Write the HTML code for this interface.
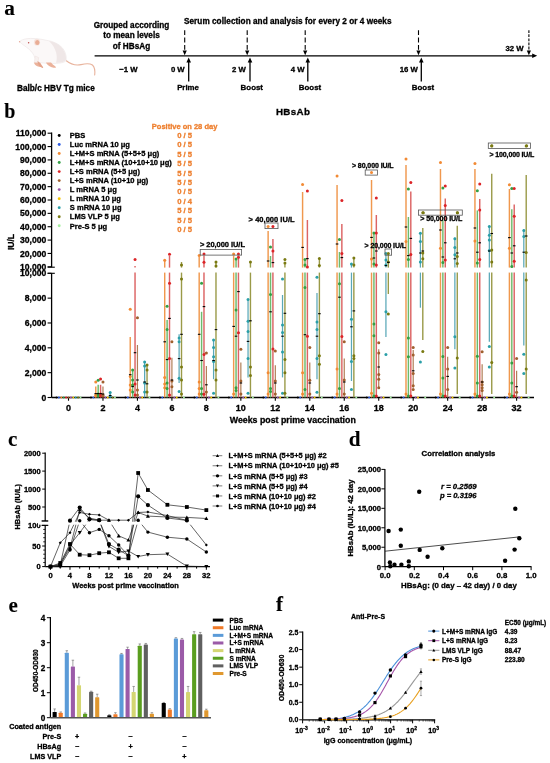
<!DOCTYPE html>
<html><head><meta charset="utf-8"><title>Figure</title>
<style>
html,body{margin:0;padding:0;background:#fff;}
svg{display:block;}
text{font-family:'Liberation Sans', Arial, Helvetica, sans-serif;font-weight:bold;stroke-width:0.3px;}
text:not([stroke]){stroke:#000;}
</style></head>
<body>
<svg width="550" height="763" viewBox="0 0 550 763">
<rect width="550" height="763" fill="#fff"/>
<text x="4.3" y="14.8" font-size="21.3" style="font-family:Liberation Serif, Times New Roman, serif;stroke-width:0.1px">a</text>
<g id="mouse">
<path d="M66,60.5 C71,64.5 76,65.8 81,64.6 C85,63.6 89.5,63 92.4,65 C94.6,67 95.2,70.5 94.7,75" fill="none" stroke="#e8b39c" stroke-width="1.1" stroke-linecap="round"/>
<path d="M19.4,41.6 C21.5,40 23.5,39.2 26,38.8 C29,38.3 32,38.2 35,38.6 C39,38.6 43,39.6 47,40.4 C53,41.2 58.5,43.6 62,47.5 C65.5,51.5 66.6,56 66.2,60.5 C64.5,62.8 60,63.4 54,63.4 C49,63.5 44,63.3 40,62.6 C37.5,62 36,60.6 35,58.2 C33.8,54.5 31.8,51.6 28.8,49 C25.8,46.6 22.4,44.6 19.4,41.6 Z" fill="#fbf8f8" stroke="#e9e0e0" stroke-width="0.5"/>
<path d="M49,40.9 C55,41.8 59.5,44.5 62.5,48.5 C65.3,52.3 66.3,56.5 66,60.2 C64,62.3 60,62.8 56,62.8 C58,56.5 56.5,48 49,40.9 Z" fill="#efe7e7"/>
<path d="M35.2,56 C34.8,59 34.4,61.5 34.2,63 L38.6,63.4 C38.2,61.5 38.2,59.5 38.6,57.5 Z" fill="#f7f1f0" stroke="#eadcda" stroke-width="0.4"/>
<path d="M34.2,62.6 C34,64.2 35.5,65.8 38,66.6 C39.6,67.1 41,67.2 41.3,66.5 C41.2,65.7 40,65.2 39,64.5 C38.6,63.9 38.5,63.3 38.6,62.8 Z" fill="#ebb29b"/>
<path d="M37.4,61 C37.6,63.5 38.6,65.6 40.4,66.8 C41.6,67.8 43,68.4 43.2,67.4 C42.8,66.2 41.2,65 40.4,63 Z" fill="#e4a48b"/>
<path d="M46,62.5 C47,64.5 48.6,66 50.6,66.8 C52.6,67.6 55,68.3 56,67.5 C56,66.4 54,65.8 52.8,64.6 C52,63.8 51.4,63 51,62.6 Z" fill="#ebb29b"/>
<ellipse cx="37" cy="42.2" rx="3.1" ry="3.4" fill="#f6e4de"/>
<ellipse cx="37.3" cy="42.5" rx="2.2" ry="2.6" fill="#e9ad96"/>
<circle cx="28.6" cy="42.7" r="0.75" fill="#c0504d"/>
<circle cx="19.6" cy="41.7" r="0.7" fill="#e8a898"/>
</g>
<text x="55.9" y="91.4" font-size="8.23" text-anchor="middle">Balb/c HBV Tg mice</text>
<line x1="94.6" y1="55.8" x2="533" y2="55.8" stroke="#000" stroke-width="1.3"/>
<path d="M537.2,55.8 L532.2,53.6 L532.2,58 Z" fill="#000"/>
<text x="131.5" y="28.3" font-size="8.2" text-anchor="middle">Grouped according</text>
<text x="131.5" y="38.4" font-size="8.2" text-anchor="middle">to mean levels</text>
<text x="131.5" y="48.5" font-size="8.2" text-anchor="middle">of HBsAg</text>
<text x="184" y="24.4" font-size="8.2" textLength="207.5">Serum collection and analysis for every 2 or 4 weeks</text>
<text x="128.5" y="71.6" font-size="7.75" text-anchor="middle">−1 W</text>
<text x="177.8" y="71.6" font-size="7.75" text-anchor="middle">0 W</text>
<text x="239" y="71.6" font-size="7.75" text-anchor="middle">2 W</text>
<text x="297.6" y="71.6" font-size="7.75" text-anchor="middle">4 W</text>
<text x="408.8" y="71.6" font-size="7.75" text-anchor="middle">16 W</text>
<text x="514.5" y="50.9" font-size="7.75" text-anchor="middle">32 W</text>
<line x1="184.7" y1="30.2" x2="184.7" y2="52" stroke="#000" stroke-width="1.1" stroke-dasharray="4.8,2.6"/>
<path d="M184.7,55.2 L182.6,50.6 L186.8,50.6 Z" fill="#000"/>
<line x1="247.2" y1="30.2" x2="247.2" y2="52" stroke="#000" stroke-width="1.1" stroke-dasharray="4.8,2.6"/>
<path d="M247.2,55.2 L245.1,50.6 L249.3,50.6 Z" fill="#000"/>
<line x1="305.2" y1="30.2" x2="305.2" y2="52" stroke="#000" stroke-width="1.1" stroke-dasharray="4.8,2.6"/>
<path d="M305.2,55.2 L303.1,50.6 L307.3,50.6 Z" fill="#000"/>
<line x1="418.5" y1="30.2" x2="418.5" y2="52" stroke="#000" stroke-width="1.1" stroke-dasharray="4.8,2.6"/>
<path d="M418.5,55.2 L416.4,50.6 L420.6,50.6 Z" fill="#000"/>
<line x1="528.9" y1="30.2" x2="528.9" y2="52" stroke="#000" stroke-width="1.1" stroke-dasharray="2.8,1.3"/>
<path d="M528.9,55.2 L526.8,50.6 L531,50.6 Z" fill="#000"/>
<line x1="188.7" y1="61.5" x2="188.7" y2="81.5" stroke="#000" stroke-width="1.3"/>
<path d="M188.7,57.4 L186.4,62.6 L191,62.6 Z" fill="#000"/>
<line x1="250" y1="61.5" x2="250" y2="81.5" stroke="#000" stroke-width="1.3"/>
<path d="M250,57.4 L247.7,62.6 L252.3,62.6 Z" fill="#000"/>
<line x1="307.8" y1="61.5" x2="307.8" y2="81.5" stroke="#000" stroke-width="1.3"/>
<path d="M307.8,57.4 L305.5,62.6 L310.1,62.6 Z" fill="#000"/>
<line x1="421.3" y1="61.5" x2="421.3" y2="81.5" stroke="#000" stroke-width="1.3"/>
<path d="M421.3,57.4 L419,62.6 L423.6,62.6 Z" fill="#000"/>
<text x="188" y="90.3" font-size="7.8" text-anchor="middle">Prime</text>
<text x="251.8" y="90.3" font-size="7.9" text-anchor="middle">Boost</text>
<text x="310" y="90.3" font-size="7.9" text-anchor="middle">Boost</text>
<text x="423" y="90.3" font-size="7.9" text-anchor="middle">Boost</text>
<text x="4.3" y="117.6" font-size="20" style="font-family:Liberation Serif, Times New Roman, serif;stroke-width:0.1px">b</text>
<text x="275.9" y="115.3" font-size="9.75" textLength="34">HBsAb</text>
<line x1="51.6" y1="132.5" x2="51.6" y2="267.2" stroke="#000" stroke-width="1.3"/>
<line x1="47.6" y1="133.2" x2="51.6" y2="133.2" stroke="#000" stroke-width="1.1"/>
<text x="46.3" y="136.3" font-size="8.6" text-anchor="end">110,000</text>
<line x1="47.6" y1="146.56" x2="51.6" y2="146.56" stroke="#000" stroke-width="1.1"/>
<text x="46.3" y="149.66" font-size="8.6" text-anchor="end">100,000</text>
<line x1="47.6" y1="159.92" x2="51.6" y2="159.92" stroke="#000" stroke-width="1.1"/>
<text x="46.3" y="163.02" font-size="8.6" text-anchor="end">90,000</text>
<line x1="47.6" y1="173.28" x2="51.6" y2="173.28" stroke="#000" stroke-width="1.1"/>
<text x="46.3" y="176.38" font-size="8.6" text-anchor="end">80,000</text>
<line x1="47.6" y1="186.64" x2="51.6" y2="186.64" stroke="#000" stroke-width="1.1"/>
<text x="46.3" y="189.74" font-size="8.6" text-anchor="end">70,000</text>
<line x1="47.6" y1="200" x2="51.6" y2="200" stroke="#000" stroke-width="1.1"/>
<text x="46.3" y="203.1" font-size="8.6" text-anchor="end">60,000</text>
<line x1="47.6" y1="213.36" x2="51.6" y2="213.36" stroke="#000" stroke-width="1.1"/>
<text x="46.3" y="216.46" font-size="8.6" text-anchor="end">50,000</text>
<line x1="47.6" y1="226.72" x2="51.6" y2="226.72" stroke="#000" stroke-width="1.1"/>
<text x="46.3" y="229.82" font-size="8.6" text-anchor="end">40,000</text>
<line x1="47.6" y1="240.08" x2="51.6" y2="240.08" stroke="#000" stroke-width="1.1"/>
<text x="46.3" y="243.18" font-size="8.6" text-anchor="end">30,000</text>
<line x1="47.6" y1="253.44" x2="51.6" y2="253.44" stroke="#000" stroke-width="1.1"/>
<text x="46.3" y="256.54" font-size="8.6" text-anchor="end">20,000</text>
<line x1="47.6" y1="266.8" x2="51.6" y2="266.8" stroke="#000" stroke-width="1.1"/>
<text x="46.3" y="269.9" font-size="8.6" text-anchor="end">10,000</text>
<line x1="47.6" y1="267.2" x2="54.8" y2="267.2" stroke="#000" stroke-width="1.1"/>
<line x1="51.6" y1="273.3" x2="51.6" y2="397.5" stroke="#000" stroke-width="1.3"/>
<line x1="47.6" y1="273.3" x2="54.8" y2="273.3" stroke="#000" stroke-width="1.1"/>
<line x1="47.6" y1="273.3" x2="51.6" y2="273.3" stroke="#000" stroke-width="1.1"/>
<text x="46.3" y="276.4" font-size="8.6" text-anchor="end">10,000</text>
<line x1="47.6" y1="298.14" x2="51.6" y2="298.14" stroke="#000" stroke-width="1.1"/>
<text x="46.3" y="301.24" font-size="8.6" text-anchor="end">8,000</text>
<line x1="47.6" y1="322.98" x2="51.6" y2="322.98" stroke="#000" stroke-width="1.1"/>
<text x="46.3" y="326.08" font-size="8.6" text-anchor="end">6,000</text>
<line x1="47.6" y1="347.82" x2="51.6" y2="347.82" stroke="#000" stroke-width="1.1"/>
<text x="46.3" y="350.92" font-size="8.6" text-anchor="end">4,000</text>
<line x1="47.6" y1="372.66" x2="51.6" y2="372.66" stroke="#000" stroke-width="1.1"/>
<text x="46.3" y="375.76" font-size="8.6" text-anchor="end">2,000</text>
<line x1="47.6" y1="397.5" x2="51.6" y2="397.5" stroke="#000" stroke-width="1.1"/>
<text x="46.3" y="400.6" font-size="8.6" text-anchor="end">0</text>
<text x="14.4" y="242" font-size="8.6" text-anchor="middle" transform="rotate(-90 14.4 242)">IU/L</text>
<text x="184.6" y="129" font-size="7.5" text-anchor="middle" fill="#ee7f2e" stroke="#ee7f2e">Positive on 28 day</text>
<circle cx="59.2" cy="135.5" r="1.45" fill="#000000"/>
<text x="69.8" y="138.3" font-size="7.55">PBS</text>
<text x="184.6" y="137.8" font-size="7.65" text-anchor="middle" fill="#ee7f2e" stroke="#ee7f2e">0 / 5</text>
<circle cx="59.2" cy="144.52" r="1.45" fill="#2d5be3"/>
<text x="69.8" y="147.32" font-size="7.55">Luc mRNA 10 μg</text>
<text x="184.6" y="147.24" font-size="7.65" text-anchor="middle" fill="#ee7f2e" stroke="#ee7f2e">0 / 5</text>
<circle cx="59.2" cy="153.54" r="1.45" fill="#f28a34"/>
<text x="69.8" y="156.34" font-size="7.55">L+M+S mRNA (5+5+5 μg)</text>
<text x="184.6" y="156.68" font-size="7.65" text-anchor="middle" fill="#ee7f2e" stroke="#ee7f2e">5 / 5</text>
<circle cx="59.2" cy="162.56" r="1.45" fill="#33a045"/>
<text x="69.8" y="165.36" font-size="7.55">L+M+S mRNA (10+10+10 μg)</text>
<text x="184.6" y="166.12" font-size="7.65" text-anchor="middle" fill="#ee7f2e" stroke="#ee7f2e">5 / 5</text>
<circle cx="59.2" cy="171.58" r="1.45" fill="#dc2427"/>
<text x="69.8" y="174.38" font-size="7.55">L+S mRNA (5+5 μg)</text>
<text x="184.6" y="175.56" font-size="7.65" text-anchor="middle" fill="#ee7f2e" stroke="#ee7f2e">5 / 5</text>
<circle cx="59.2" cy="180.6" r="1.45" fill="#a0602e"/>
<text x="69.8" y="183.4" font-size="7.55">L+S mRNA (10+10 μg)</text>
<text x="184.6" y="185" font-size="7.65" text-anchor="middle" fill="#ee7f2e" stroke="#ee7f2e">5 / 5</text>
<circle cx="59.2" cy="189.62" r="1.45" fill="#9a55a8"/>
<text x="69.8" y="192.42" font-size="7.55">L mRNA 5 μg</text>
<text x="184.6" y="194.44" font-size="7.65" text-anchor="middle" fill="#ee7f2e" stroke="#ee7f2e">0 / 5</text>
<circle cx="59.2" cy="198.64" r="1.45" fill="#f5c400"/>
<text x="69.8" y="201.44" font-size="7.55">L mRNA 10 μg</text>
<text x="184.6" y="203.88" font-size="7.65" text-anchor="middle" fill="#ee7f2e" stroke="#ee7f2e">0 / 4</text>
<circle cx="59.2" cy="207.66" r="1.45" fill="#2a9fa8"/>
<text x="69.8" y="210.46" font-size="7.55">S mRNA 10 μg</text>
<text x="184.6" y="213.32" font-size="7.65" text-anchor="middle" fill="#ee7f2e" stroke="#ee7f2e">5 / 5</text>
<circle cx="59.2" cy="216.68" r="1.45" fill="#7a7a12"/>
<text x="69.8" y="219.48" font-size="7.55">LMS VLP 5 μg</text>
<text x="184.6" y="222.76" font-size="7.65" text-anchor="middle" fill="#ee7f2e" stroke="#ee7f2e">5 / 5</text>
<circle cx="59.2" cy="225.7" r="1.45" fill="#a6eea0"/>
<text x="69.8" y="228.5" font-size="7.55">Pre-S 5 μg</text>
<text x="184.6" y="232.2" font-size="7.65" text-anchor="middle" fill="#ee7f2e" stroke="#ee7f2e">0 / 5</text>
<line x1="51.6" y1="397.5" x2="534" y2="397.5" stroke="#000" stroke-width="1.4"/>
<line x1="68.5" y1="397.5" x2="68.5" y2="400.7" stroke="#000" stroke-width="1.1"/>
<text x="68.5" y="411.2" font-size="9" text-anchor="middle">0</text>
<line x1="102.97" y1="397.5" x2="102.97" y2="400.7" stroke="#000" stroke-width="1.1"/>
<text x="102.97" y="411.2" font-size="9" text-anchor="middle">2</text>
<line x1="137.44" y1="397.5" x2="137.44" y2="400.7" stroke="#000" stroke-width="1.1"/>
<text x="137.44" y="411.2" font-size="9" text-anchor="middle">4</text>
<line x1="171.91" y1="397.5" x2="171.91" y2="400.7" stroke="#000" stroke-width="1.1"/>
<text x="171.91" y="411.2" font-size="9" text-anchor="middle">6</text>
<line x1="206.38" y1="397.5" x2="206.38" y2="400.7" stroke="#000" stroke-width="1.1"/>
<text x="206.38" y="411.2" font-size="9" text-anchor="middle">8</text>
<line x1="240.85" y1="397.5" x2="240.85" y2="400.7" stroke="#000" stroke-width="1.1"/>
<text x="240.85" y="411.2" font-size="9" text-anchor="middle">10</text>
<line x1="275.32" y1="397.5" x2="275.32" y2="400.7" stroke="#000" stroke-width="1.1"/>
<text x="275.32" y="411.2" font-size="9" text-anchor="middle">12</text>
<line x1="309.79" y1="397.5" x2="309.79" y2="400.7" stroke="#000" stroke-width="1.1"/>
<text x="309.79" y="411.2" font-size="9" text-anchor="middle">14</text>
<line x1="344.26" y1="397.5" x2="344.26" y2="400.7" stroke="#000" stroke-width="1.1"/>
<text x="344.26" y="411.2" font-size="9" text-anchor="middle">16</text>
<line x1="378.73" y1="397.5" x2="378.73" y2="400.7" stroke="#000" stroke-width="1.1"/>
<text x="378.73" y="411.2" font-size="9" text-anchor="middle">18</text>
<line x1="413.2" y1="397.5" x2="413.2" y2="400.7" stroke="#000" stroke-width="1.1"/>
<text x="413.2" y="411.2" font-size="9" text-anchor="middle">20</text>
<line x1="447.67" y1="397.5" x2="447.67" y2="400.7" stroke="#000" stroke-width="1.1"/>
<text x="447.67" y="411.2" font-size="9" text-anchor="middle">24</text>
<line x1="482.14" y1="397.5" x2="482.14" y2="400.7" stroke="#000" stroke-width="1.1"/>
<text x="482.14" y="411.2" font-size="9" text-anchor="middle">28</text>
<line x1="516.61" y1="397.5" x2="516.61" y2="400.7" stroke="#000" stroke-width="1.1"/>
<text x="516.61" y="411.2" font-size="9" text-anchor="middle">32</text>
<text x="292.8" y="422.8" font-size="8.8" text-anchor="middle">Weeks post prime vaccination</text>
<circle cx="56.5" cy="397.5" r="1" fill="#000000"/>
<circle cx="58.9" cy="397.5" r="1" fill="#2d5be3"/>
<circle cx="61.3" cy="397.5" r="1" fill="#f28a34"/>
<circle cx="63.7" cy="397.5" r="1" fill="#33a045"/>
<circle cx="66.1" cy="397.5" r="1" fill="#dc2427"/>
<circle cx="68.5" cy="397.5" r="1" fill="#a0602e"/>
<circle cx="70.9" cy="397.5" r="1" fill="#9a55a8"/>
<circle cx="73.3" cy="397.5" r="1" fill="#f5c400"/>
<circle cx="75.7" cy="397.5" r="1" fill="#2a9fa8"/>
<circle cx="78.1" cy="397.5" r="1" fill="#7a7a12"/>
<circle cx="80.5" cy="397.5" r="1" fill="#a6eea0"/>
<circle cx="90.97" cy="397.5" r="1" fill="#000000"/>
<circle cx="93.37" cy="397.5" r="1" fill="#2d5be3"/>
<line x1="95.77" y1="386.6" x2="95.77" y2="397.5" stroke="#f0984e" stroke-width="1.45"/>
<circle cx="95.77" cy="382" r="1.5" fill="#f28a34"/>
<circle cx="95.77" cy="395" r="1.5" fill="#f28a34"/>
<circle cx="95.77" cy="396" r="1.5" fill="#f28a34"/>
<line x1="94.47" y1="393.6" x2="97.07" y2="393.6" stroke="#000" stroke-width="1.1"/>
<line x1="98.17" y1="384.8" x2="98.17" y2="397.5" stroke="#6cbc6e" stroke-width="1.45"/>
<circle cx="98.17" cy="380.2" r="1.5" fill="#33a045"/>
<circle cx="98.17" cy="394" r="1.5" fill="#33a045"/>
<circle cx="98.17" cy="396" r="1.5" fill="#33a045"/>
<line x1="96.87" y1="393.6" x2="99.47" y2="393.6" stroke="#000" stroke-width="1.1"/>
<line x1="100.57" y1="384.8" x2="100.57" y2="397.5" stroke="#dc6464" stroke-width="1.45"/>
<circle cx="100.57" cy="378.9" r="1.5" fill="#dc2427"/>
<circle cx="100.57" cy="394" r="1.5" fill="#dc2427"/>
<circle cx="100.57" cy="396" r="1.5" fill="#dc2427"/>
<line x1="99.27" y1="393.6" x2="101.87" y2="393.6" stroke="#000" stroke-width="1.1"/>
<line x1="102.97" y1="386.6" x2="102.97" y2="397.5" stroke="#b07e56" stroke-width="1.2"/>
<circle cx="102.97" cy="382" r="1.5" fill="#a0602e"/>
<circle cx="102.97" cy="395" r="1.5" fill="#a0602e"/>
<circle cx="102.97" cy="396" r="1.5" fill="#a0602e"/>
<line x1="101.67" y1="394" x2="104.27" y2="394" stroke="#000" stroke-width="1.1"/>
<circle cx="105.37" cy="397.5" r="1" fill="#9a55a8"/>
<circle cx="107.77" cy="397.5" r="1" fill="#f5c400"/>
<line x1="110.17" y1="392" x2="110.17" y2="397.5" stroke="#5aa8b8" stroke-width="1.25"/>
<circle cx="110.17" cy="392.5" r="1.5" fill="#2a9fa8"/>
<circle cx="110.17" cy="396" r="1.5" fill="#2a9fa8"/>
<line x1="108.87" y1="395.5" x2="111.47" y2="395.5" stroke="#000" stroke-width="1.1"/>
<circle cx="112.57" cy="397.5" r="1" fill="#7a7a12"/>
<circle cx="114.97" cy="397.5" r="1" fill="#a6eea0"/>
<circle cx="125.44" cy="397.5" r="1" fill="#000000"/>
<circle cx="127.84" cy="397.5" r="1" fill="#2d5be3"/>
<line x1="130.24" y1="337" x2="130.24" y2="397.5" stroke="#f0984e" stroke-width="1.45"/>
<circle cx="130.24" cy="309.2" r="1.5" fill="#f28a34"/>
<circle cx="130.24" cy="376.5" r="1.5" fill="#f28a34"/>
<circle cx="130.24" cy="385" r="1.5" fill="#f28a34"/>
<circle cx="130.24" cy="390" r="1.5" fill="#f28a34"/>
<line x1="128.94" y1="374.7" x2="131.54" y2="374.7" stroke="#000" stroke-width="1.1"/>
<line x1="132.64" y1="370" x2="132.64" y2="397.5" stroke="#6cbc6e" stroke-width="1.45"/>
<circle cx="132.64" cy="370" r="1.5" fill="#33a045"/>
<circle cx="132.64" cy="380" r="1.5" fill="#33a045"/>
<circle cx="132.64" cy="385" r="1.5" fill="#33a045"/>
<circle cx="132.64" cy="392" r="1.5" fill="#33a045"/>
<line x1="131.34" y1="386.6" x2="133.94" y2="386.6" stroke="#000" stroke-width="1.1"/>
<line x1="135.04" y1="266" x2="135.04" y2="267.6" stroke="#dc6464" stroke-width="1.45"/>
<line x1="135.04" y1="272.6" x2="135.04" y2="397.5" stroke="#dc6464" stroke-width="1.45"/>
<circle cx="135.04" cy="259.6" r="1.5" fill="#dc2427"/>
<circle cx="135.04" cy="384" r="1.5" fill="#dc2427"/>
<circle cx="135.04" cy="395" r="1.5" fill="#dc2427"/>
<line x1="133.74" y1="352.7" x2="136.34" y2="352.7" stroke="#000" stroke-width="1.1"/>
<line x1="137.44" y1="345" x2="137.44" y2="397.5" stroke="#b07e56" stroke-width="1.2"/>
<circle cx="137.44" cy="317.8" r="1.5" fill="#a0602e"/>
<circle cx="137.44" cy="390" r="1.5" fill="#a0602e"/>
<circle cx="137.44" cy="395" r="1.5" fill="#a0602e"/>
<line x1="136.14" y1="380" x2="138.74" y2="380" stroke="#000" stroke-width="1.1"/>
<circle cx="139.84" cy="397.5" r="1" fill="#9a55a8"/>
<circle cx="142.24" cy="397.5" r="1" fill="#f5c400"/>
<line x1="144.64" y1="361.8" x2="144.64" y2="397.5" stroke="#5aa8b8" stroke-width="1.25"/>
<circle cx="144.64" cy="362" r="1.5" fill="#2a9fa8"/>
<circle cx="144.64" cy="366" r="1.5" fill="#2a9fa8"/>
<circle cx="144.64" cy="383" r="1.5" fill="#2a9fa8"/>
<circle cx="144.64" cy="392" r="1.5" fill="#2a9fa8"/>
<line x1="143.34" y1="382" x2="145.94" y2="382" stroke="#000" stroke-width="1.1"/>
<line x1="147.04" y1="364.6" x2="147.04" y2="397.5" stroke="#9a9a48" stroke-width="1.4"/>
<circle cx="147.04" cy="365" r="1.5" fill="#7a7a12"/>
<circle cx="147.04" cy="370" r="1.5" fill="#7a7a12"/>
<circle cx="147.04" cy="392" r="1.5" fill="#7a7a12"/>
<line x1="145.74" y1="383.8" x2="148.34" y2="383.8" stroke="#000" stroke-width="1.1"/>
<circle cx="149.44" cy="397.5" r="1" fill="#a6eea0"/>
<circle cx="159.91" cy="397.5" r="1" fill="#000000"/>
<circle cx="162.31" cy="397.5" r="1" fill="#2d5be3"/>
<line x1="164.71" y1="260" x2="164.71" y2="267.6" stroke="#f0984e" stroke-width="1.45"/>
<line x1="164.71" y1="272.6" x2="164.71" y2="397.5" stroke="#f0984e" stroke-width="1.45"/>
<circle cx="164.71" cy="260.3" r="1.5" fill="#f28a34"/>
<circle cx="164.71" cy="377.4" r="1.5" fill="#f28a34"/>
<circle cx="164.71" cy="384" r="1.5" fill="#f28a34"/>
<circle cx="164.71" cy="387.7" r="1.5" fill="#f28a34"/>
<line x1="163.41" y1="341.8" x2="166.01" y2="341.8" stroke="#000" stroke-width="1.1"/>
<line x1="167.11" y1="320" x2="167.11" y2="397.5" stroke="#6cbc6e" stroke-width="1.45"/>
<circle cx="167.11" cy="306.2" r="1.5" fill="#33a045"/>
<circle cx="167.11" cy="329.6" r="1.5" fill="#33a045"/>
<circle cx="167.11" cy="383" r="1.5" fill="#33a045"/>
<circle cx="167.11" cy="388.6" r="1.5" fill="#33a045"/>
<line x1="165.81" y1="359.6" x2="168.41" y2="359.6" stroke="#000" stroke-width="1.1"/>
<line x1="169.51" y1="256" x2="169.51" y2="267.6" stroke="#dc6464" stroke-width="1.45"/>
<line x1="169.51" y1="272.6" x2="169.51" y2="397.5" stroke="#dc6464" stroke-width="1.45"/>
<circle cx="169.51" cy="254.2" r="1.5" fill="#dc2427"/>
<circle cx="169.51" cy="283.2" r="1.5" fill="#dc2427"/>
<circle cx="169.51" cy="358.6" r="1.5" fill="#dc2427"/>
<circle cx="169.51" cy="395" r="1.5" fill="#dc2427"/>
<line x1="168.21" y1="318.4" x2="170.81" y2="318.4" stroke="#000" stroke-width="1.1"/>
<line x1="171.91" y1="357.7" x2="171.91" y2="397.5" stroke="#b07e56" stroke-width="1.2"/>
<circle cx="171.91" cy="341.8" r="1.5" fill="#a0602e"/>
<circle cx="171.91" cy="381" r="1.5" fill="#a0602e"/>
<circle cx="171.91" cy="386.7" r="1.5" fill="#a0602e"/>
<line x1="170.61" y1="380" x2="173.21" y2="380" stroke="#000" stroke-width="1.1"/>
<circle cx="174.31" cy="397.5" r="1" fill="#9a55a8"/>
<circle cx="176.71" cy="397.5" r="1" fill="#f5c400"/>
<line x1="179.11" y1="334.3" x2="179.11" y2="383" stroke="#5aa8b8" stroke-width="1.25"/>
<circle cx="179.11" cy="338" r="1.5" fill="#2a9fa8"/>
<circle cx="179.11" cy="341.8" r="1.5" fill="#2a9fa8"/>
<circle cx="179.11" cy="378.3" r="1.5" fill="#2a9fa8"/>
<circle cx="179.11" cy="391.4" r="1.5" fill="#2a9fa8"/>
<line x1="177.81" y1="358.6" x2="180.41" y2="358.6" stroke="#000" stroke-width="1.1"/>
<line x1="181.51" y1="262" x2="181.51" y2="267.6" stroke="#9a9a48" stroke-width="1.4"/>
<line x1="181.51" y1="272.6" x2="181.51" y2="397.5" stroke="#9a9a48" stroke-width="1.4"/>
<circle cx="181.51" cy="264.9" r="1.5" fill="#7a7a12"/>
<circle cx="181.51" cy="279" r="1.5" fill="#7a7a12"/>
<circle cx="181.51" cy="367" r="1.5" fill="#7a7a12"/>
<circle cx="181.51" cy="380" r="1.5" fill="#7a7a12"/>
<circle cx="181.51" cy="394" r="1.5" fill="#7a7a12"/>
<line x1="180.21" y1="334.3" x2="182.81" y2="334.3" stroke="#000" stroke-width="1.1"/>
<circle cx="183.91" cy="397.5" r="1" fill="#a6eea0"/>
<circle cx="194.38" cy="397.5" r="1" fill="#000000"/>
<circle cx="196.78" cy="397.5" r="1" fill="#2d5be3"/>
<line x1="199.18" y1="257" x2="199.18" y2="267.6" stroke="#f0984e" stroke-width="1.45"/>
<line x1="199.18" y1="272.6" x2="199.18" y2="397.5" stroke="#f0984e" stroke-width="1.45"/>
<circle cx="199.18" cy="255.5" r="1.5" fill="#f28a34"/>
<circle cx="199.18" cy="382" r="1.5" fill="#f28a34"/>
<circle cx="199.18" cy="388.6" r="1.5" fill="#f28a34"/>
<circle cx="199.18" cy="394" r="1.5" fill="#f28a34"/>
<line x1="197.88" y1="334.3" x2="200.48" y2="334.3" stroke="#000" stroke-width="1.1"/>
<line x1="201.58" y1="311.8" x2="201.58" y2="397.5" stroke="#6cbc6e" stroke-width="1.45"/>
<circle cx="201.58" cy="283.2" r="1.5" fill="#33a045"/>
<circle cx="201.58" cy="388.6" r="1.5" fill="#33a045"/>
<circle cx="201.58" cy="394" r="1.5" fill="#33a045"/>
<line x1="200.28" y1="360.5" x2="202.88" y2="360.5" stroke="#000" stroke-width="1.1"/>
<line x1="203.98" y1="256" x2="203.98" y2="267.6" stroke="#dc6464" stroke-width="1.45"/>
<line x1="203.98" y1="272.6" x2="203.98" y2="397.5" stroke="#dc6464" stroke-width="1.45"/>
<circle cx="203.98" cy="254" r="1.5" fill="#dc2427"/>
<circle cx="203.98" cy="262.3" r="1.5" fill="#dc2427"/>
<circle cx="203.98" cy="354.5" r="1.5" fill="#dc2427"/>
<circle cx="203.98" cy="394.2" r="1.5" fill="#dc2427"/>
<line x1="202.68" y1="306.6" x2="205.28" y2="306.6" stroke="#000" stroke-width="1.1"/>
<line x1="206.38" y1="366" x2="206.38" y2="397.5" stroke="#b07e56" stroke-width="1.2"/>
<circle cx="206.38" cy="353" r="1.5" fill="#a0602e"/>
<circle cx="206.38" cy="392" r="1.5" fill="#a0602e"/>
<line x1="205.08" y1="384.8" x2="207.68" y2="384.8" stroke="#000" stroke-width="1.1"/>
<circle cx="208.78" cy="397.5" r="1" fill="#9a55a8"/>
<circle cx="211.18" cy="397.5" r="1" fill="#f5c400"/>
<line x1="213.58" y1="339.5" x2="213.58" y2="379.2" stroke="#5aa8b8" stroke-width="1.25"/>
<circle cx="213.58" cy="340" r="1.5" fill="#2a9fa8"/>
<circle cx="213.58" cy="347.4" r="1.5" fill="#2a9fa8"/>
<circle cx="213.58" cy="356.8" r="1.5" fill="#2a9fa8"/>
<circle cx="213.58" cy="361.4" r="1.5" fill="#2a9fa8"/>
<circle cx="213.58" cy="393.3" r="1.5" fill="#2a9fa8"/>
<line x1="212.28" y1="360.5" x2="214.88" y2="360.5" stroke="#000" stroke-width="1.1"/>
<line x1="215.98" y1="262" x2="215.98" y2="267.6" stroke="#9a9a48" stroke-width="1.4"/>
<line x1="215.98" y1="272.6" x2="215.98" y2="397.5" stroke="#9a9a48" stroke-width="1.4"/>
<circle cx="215.98" cy="262" r="1.5" fill="#7a7a12"/>
<circle cx="215.98" cy="266" r="1.5" fill="#7a7a12"/>
<circle cx="215.98" cy="370" r="1.5" fill="#7a7a12"/>
<circle cx="215.98" cy="380" r="1.5" fill="#7a7a12"/>
<line x1="214.68" y1="329.6" x2="217.28" y2="329.6" stroke="#000" stroke-width="1.1"/>
<circle cx="218.38" cy="397.5" r="1" fill="#a6eea0"/>
<circle cx="228.85" cy="397.5" r="1" fill="#000000"/>
<circle cx="231.25" cy="397.5" r="1" fill="#2d5be3"/>
<line x1="233.65" y1="256" x2="233.65" y2="267.6" stroke="#f0984e" stroke-width="1.45"/>
<line x1="233.65" y1="272.6" x2="233.65" y2="397.5" stroke="#f0984e" stroke-width="1.45"/>
<circle cx="233.65" cy="254" r="1.5" fill="#f28a34"/>
<circle cx="233.65" cy="394" r="1.5" fill="#f28a34"/>
<line x1="232.35" y1="326.4" x2="234.95" y2="326.4" stroke="#000" stroke-width="1.1"/>
<line x1="236.05" y1="259" x2="236.05" y2="267.6" stroke="#6cbc6e" stroke-width="1.45"/>
<line x1="236.05" y1="272.6" x2="236.05" y2="397.5" stroke="#6cbc6e" stroke-width="1.45"/>
<circle cx="236.05" cy="259" r="1.5" fill="#33a045"/>
<circle cx="236.05" cy="310" r="1.5" fill="#33a045"/>
<circle cx="236.05" cy="387.7" r="1.5" fill="#33a045"/>
<circle cx="236.05" cy="390.5" r="1.5" fill="#33a045"/>
<line x1="234.75" y1="336.2" x2="237.35" y2="336.2" stroke="#000" stroke-width="1.1"/>
<line x1="238.45" y1="256" x2="238.45" y2="267.6" stroke="#dc6464" stroke-width="1.45"/>
<line x1="238.45" y1="272.6" x2="238.45" y2="397.5" stroke="#dc6464" stroke-width="1.45"/>
<circle cx="238.45" cy="254" r="1.5" fill="#dc2427"/>
<circle cx="238.45" cy="257.3" r="1.5" fill="#dc2427"/>
<circle cx="238.45" cy="332.8" r="1.5" fill="#dc2427"/>
<line x1="237.15" y1="291.6" x2="239.75" y2="291.6" stroke="#000" stroke-width="1.1"/>
<line x1="240.85" y1="362.4" x2="240.85" y2="397.5" stroke="#b07e56" stroke-width="1.2"/>
<circle cx="240.85" cy="349.3" r="1.5" fill="#a0602e"/>
<circle cx="240.85" cy="381" r="1.5" fill="#a0602e"/>
<circle cx="240.85" cy="394" r="1.5" fill="#a0602e"/>
<line x1="239.55" y1="383" x2="242.15" y2="383" stroke="#000" stroke-width="1.1"/>
<circle cx="243.25" cy="397.5" r="1" fill="#9a55a8"/>
<circle cx="245.65" cy="397.5" r="1" fill="#f5c400"/>
<line x1="248.05" y1="299.6" x2="248.05" y2="377.4" stroke="#5aa8b8" stroke-width="1.25"/>
<circle cx="248.05" cy="299.6" r="1.5" fill="#2a9fa8"/>
<circle cx="248.05" cy="321.2" r="1.5" fill="#2a9fa8"/>
<circle cx="248.05" cy="331.5" r="1.5" fill="#2a9fa8"/>
<circle cx="248.05" cy="358.6" r="1.5" fill="#2a9fa8"/>
<circle cx="248.05" cy="393.3" r="1.5" fill="#2a9fa8"/>
<line x1="246.75" y1="341.4" x2="249.35" y2="341.4" stroke="#000" stroke-width="1.1"/>
<line x1="250.45" y1="262" x2="250.45" y2="267.6" stroke="#9a9a48" stroke-width="1.4"/>
<line x1="250.45" y1="272.6" x2="250.45" y2="397.5" stroke="#9a9a48" stroke-width="1.4"/>
<circle cx="250.45" cy="262" r="1.5" fill="#7a7a12"/>
<circle cx="250.45" cy="367" r="1.5" fill="#7a7a12"/>
<circle cx="250.45" cy="375.5" r="1.5" fill="#7a7a12"/>
<line x1="249.15" y1="320.8" x2="251.75" y2="320.8" stroke="#000" stroke-width="1.1"/>
<circle cx="252.85" cy="397.5" r="1" fill="#a6eea0"/>
<circle cx="263.32" cy="397.5" r="1" fill="#000000"/>
<circle cx="265.72" cy="397.5" r="1" fill="#2d5be3"/>
<line x1="268.12" y1="231" x2="268.12" y2="267.6" stroke="#f0984e" stroke-width="1.45"/>
<line x1="268.12" y1="272.6" x2="268.12" y2="397.5" stroke="#f0984e" stroke-width="1.45"/>
<circle cx="268.12" cy="226.4" r="1.5" fill="#f28a34"/>
<circle cx="268.12" cy="372.7" r="1.5" fill="#f28a34"/>
<circle cx="268.12" cy="394" r="1.5" fill="#f28a34"/>
<line x1="266.82" y1="261" x2="269.42" y2="261" stroke="#000" stroke-width="1.1"/>
<line x1="270.52" y1="256" x2="270.52" y2="267.6" stroke="#6cbc6e" stroke-width="1.45"/>
<line x1="270.52" y1="272.6" x2="270.52" y2="397.5" stroke="#6cbc6e" stroke-width="1.45"/>
<circle cx="270.52" cy="247" r="1.5" fill="#33a045"/>
<circle cx="270.52" cy="294.4" r="1.5" fill="#33a045"/>
<circle cx="270.52" cy="388.6" r="1.5" fill="#33a045"/>
<circle cx="270.52" cy="391.4" r="1.5" fill="#33a045"/>
<line x1="269.22" y1="311.8" x2="271.82" y2="311.8" stroke="#000" stroke-width="1.1"/>
<line x1="272.92" y1="239" x2="272.92" y2="267.6" stroke="#dc6464" stroke-width="1.45"/>
<line x1="272.92" y1="272.6" x2="272.92" y2="397.5" stroke="#dc6464" stroke-width="1.45"/>
<circle cx="272.92" cy="226.4" r="1.5" fill="#dc2427"/>
<circle cx="272.92" cy="251" r="1.5" fill="#dc2427"/>
<circle cx="272.92" cy="349" r="1.5" fill="#dc2427"/>
<line x1="271.62" y1="262.6" x2="274.22" y2="262.6" stroke="#000" stroke-width="1.1"/>
<line x1="275.32" y1="365.2" x2="275.32" y2="397.5" stroke="#b07e56" stroke-width="1.2"/>
<circle cx="275.32" cy="351" r="1.5" fill="#a0602e"/>
<circle cx="275.32" cy="381" r="1.5" fill="#a0602e"/>
<circle cx="275.32" cy="394" r="1.5" fill="#a0602e"/>
<line x1="274.02" y1="383" x2="276.62" y2="383" stroke="#000" stroke-width="1.1"/>
<circle cx="277.72" cy="397.5" r="1" fill="#9a55a8"/>
<circle cx="280.12" cy="397.5" r="1" fill="#f5c400"/>
<line x1="282.52" y1="295" x2="282.52" y2="377.4" stroke="#5aa8b8" stroke-width="1.25"/>
<circle cx="282.52" cy="279" r="1.5" fill="#2a9fa8"/>
<circle cx="282.52" cy="325" r="1.5" fill="#2a9fa8"/>
<circle cx="282.52" cy="332.4" r="1.5" fill="#2a9fa8"/>
<circle cx="282.52" cy="352" r="1.5" fill="#2a9fa8"/>
<circle cx="282.52" cy="393.3" r="1.5" fill="#2a9fa8"/>
<line x1="281.22" y1="336.2" x2="283.82" y2="336.2" stroke="#000" stroke-width="1.1"/>
<line x1="284.92" y1="263" x2="284.92" y2="267.6" stroke="#9a9a48" stroke-width="1.4"/>
<line x1="284.92" y1="272.6" x2="284.92" y2="397.5" stroke="#9a9a48" stroke-width="1.4"/>
<circle cx="284.92" cy="259.6" r="1.5" fill="#7a7a12"/>
<circle cx="284.92" cy="263" r="1.5" fill="#7a7a12"/>
<circle cx="284.92" cy="359.6" r="1.5" fill="#7a7a12"/>
<circle cx="284.92" cy="372.7" r="1.5" fill="#7a7a12"/>
<circle cx="284.92" cy="393.3" r="1.5" fill="#7a7a12"/>
<line x1="283.62" y1="313.3" x2="286.22" y2="313.3" stroke="#000" stroke-width="1.1"/>
<circle cx="287.32" cy="397.5" r="1" fill="#a6eea0"/>
<circle cx="297.79" cy="397.5" r="1" fill="#000000"/>
<circle cx="300.19" cy="397.5" r="1" fill="#2d5be3"/>
<line x1="302.59" y1="192" x2="302.59" y2="267.6" stroke="#f0984e" stroke-width="1.45"/>
<line x1="302.59" y1="272.6" x2="302.59" y2="397.5" stroke="#f0984e" stroke-width="1.45"/>
<circle cx="302.59" cy="184.4" r="1.5" fill="#f28a34"/>
<circle cx="302.59" cy="372.7" r="1.5" fill="#f28a34"/>
<circle cx="302.59" cy="394" r="1.5" fill="#f28a34"/>
<line x1="301.29" y1="247.4" x2="303.89" y2="247.4" stroke="#000" stroke-width="1.1"/>
<line x1="304.99" y1="259.6" x2="304.99" y2="267.6" stroke="#6cbc6e" stroke-width="1.45"/>
<line x1="304.99" y1="272.6" x2="304.99" y2="397.5" stroke="#6cbc6e" stroke-width="1.45"/>
<circle cx="304.99" cy="259.6" r="1.5" fill="#33a045"/>
<circle cx="304.99" cy="265" r="1.5" fill="#33a045"/>
<circle cx="304.99" cy="287.5" r="1.5" fill="#33a045"/>
<circle cx="304.99" cy="389.5" r="1.5" fill="#33a045"/>
<line x1="303.69" y1="334.7" x2="306.29" y2="334.7" stroke="#000" stroke-width="1.1"/>
<line x1="307.39" y1="220" x2="307.39" y2="267.6" stroke="#dc6464" stroke-width="1.45"/>
<line x1="307.39" y1="272.6" x2="307.39" y2="397.5" stroke="#dc6464" stroke-width="1.45"/>
<circle cx="307.39" cy="191" r="1.5" fill="#dc2427"/>
<circle cx="307.39" cy="267" r="1.5" fill="#dc2427"/>
<circle cx="307.39" cy="336.2" r="1.5" fill="#dc2427"/>
<line x1="306.09" y1="258.6" x2="308.69" y2="258.6" stroke="#000" stroke-width="1.1"/>
<line x1="309.79" y1="362.4" x2="309.79" y2="397.5" stroke="#b07e56" stroke-width="1.2"/>
<circle cx="309.79" cy="347.4" r="1.5" fill="#a0602e"/>
<circle cx="309.79" cy="380.2" r="1.5" fill="#a0602e"/>
<circle cx="309.79" cy="394" r="1.5" fill="#a0602e"/>
<line x1="308.49" y1="383" x2="311.09" y2="383" stroke="#000" stroke-width="1.1"/>
<circle cx="312.19" cy="397.5" r="1" fill="#9a55a8"/>
<circle cx="314.59" cy="397.5" r="1" fill="#f5c400"/>
<line x1="316.99" y1="293" x2="316.99" y2="379.2" stroke="#5aa8b8" stroke-width="1.25"/>
<circle cx="316.99" cy="277.2" r="1.5" fill="#2a9fa8"/>
<circle cx="316.99" cy="322" r="1.5" fill="#2a9fa8"/>
<circle cx="316.99" cy="329.6" r="1.5" fill="#2a9fa8"/>
<circle cx="316.99" cy="358.6" r="1.5" fill="#2a9fa8"/>
<circle cx="316.99" cy="392.3" r="1.5" fill="#2a9fa8"/>
<line x1="315.69" y1="336.2" x2="318.29" y2="336.2" stroke="#000" stroke-width="1.1"/>
<line x1="319.39" y1="258.6" x2="319.39" y2="267.6" stroke="#9a9a48" stroke-width="1.4"/>
<line x1="319.39" y1="272.6" x2="319.39" y2="397.5" stroke="#9a9a48" stroke-width="1.4"/>
<circle cx="319.39" cy="258.6" r="1.5" fill="#7a7a12"/>
<circle cx="319.39" cy="265.6" r="1.5" fill="#7a7a12"/>
<circle cx="319.39" cy="355.8" r="1.5" fill="#7a7a12"/>
<circle cx="319.39" cy="364.3" r="1.5" fill="#7a7a12"/>
<line x1="318.09" y1="313.7" x2="320.69" y2="313.7" stroke="#000" stroke-width="1.1"/>
<circle cx="321.79" cy="397.5" r="1" fill="#a6eea0"/>
<circle cx="332.26" cy="397.5" r="1" fill="#000000"/>
<circle cx="334.66" cy="397.5" r="1" fill="#2d5be3"/>
<line x1="337.06" y1="185" x2="337.06" y2="267.6" stroke="#f0984e" stroke-width="1.45"/>
<line x1="337.06" y1="272.6" x2="337.06" y2="397.5" stroke="#f0984e" stroke-width="1.45"/>
<circle cx="337.06" cy="176" r="1.5" fill="#f28a34"/>
<circle cx="337.06" cy="369" r="1.5" fill="#f28a34"/>
<circle cx="337.06" cy="394" r="1.5" fill="#f28a34"/>
<line x1="335.76" y1="244" x2="338.36" y2="244" stroke="#000" stroke-width="1.1"/>
<line x1="339.46" y1="252" x2="339.46" y2="267.6" stroke="#6cbc6e" stroke-width="1.45"/>
<line x1="339.46" y1="272.6" x2="339.46" y2="397.5" stroke="#6cbc6e" stroke-width="1.45"/>
<circle cx="339.46" cy="239.6" r="1.5" fill="#33a045"/>
<circle cx="339.46" cy="283.7" r="1.5" fill="#33a045"/>
<circle cx="339.46" cy="388.6" r="1.5" fill="#33a045"/>
<line x1="338.16" y1="297.2" x2="340.76" y2="297.2" stroke="#000" stroke-width="1.1"/>
<line x1="341.86" y1="224" x2="341.86" y2="267.6" stroke="#dc6464" stroke-width="1.45"/>
<line x1="341.86" y1="272.6" x2="341.86" y2="397.5" stroke="#dc6464" stroke-width="1.45"/>
<circle cx="341.86" cy="200.4" r="1.5" fill="#dc2427"/>
<circle cx="341.86" cy="253.6" r="1.5" fill="#dc2427"/>
<circle cx="341.86" cy="336.5" r="1.5" fill="#dc2427"/>
<line x1="340.56" y1="257.6" x2="343.16" y2="257.6" stroke="#000" stroke-width="1.1"/>
<line x1="344.26" y1="358.6" x2="344.26" y2="397.5" stroke="#b07e56" stroke-width="1.2"/>
<circle cx="344.26" cy="341.8" r="1.5" fill="#a0602e"/>
<circle cx="344.26" cy="380" r="1.5" fill="#a0602e"/>
<circle cx="344.26" cy="394" r="1.5" fill="#a0602e"/>
<line x1="342.96" y1="382" x2="345.56" y2="382" stroke="#000" stroke-width="1.1"/>
<circle cx="346.66" cy="397.5" r="1" fill="#9a55a8"/>
<circle cx="349.06" cy="397.5" r="1" fill="#f5c400"/>
<line x1="351.46" y1="264" x2="351.46" y2="267.6" stroke="#5aa8b8" stroke-width="1.25"/>
<line x1="351.46" y1="272.6" x2="351.46" y2="381" stroke="#5aa8b8" stroke-width="1.25"/>
<circle cx="351.46" cy="264" r="1.5" fill="#2a9fa8"/>
<circle cx="351.46" cy="319.3" r="1.5" fill="#2a9fa8"/>
<circle cx="351.46" cy="361.4" r="1.5" fill="#2a9fa8"/>
<circle cx="351.46" cy="389.5" r="1.5" fill="#2a9fa8"/>
<line x1="350.16" y1="326.8" x2="352.76" y2="326.8" stroke="#000" stroke-width="1.1"/>
<line x1="353.86" y1="258" x2="353.86" y2="267.6" stroke="#9a9a48" stroke-width="1.4"/>
<line x1="353.86" y1="272.6" x2="353.86" y2="397.5" stroke="#9a9a48" stroke-width="1.4"/>
<circle cx="353.86" cy="258" r="1.5" fill="#7a7a12"/>
<circle cx="353.86" cy="265" r="1.5" fill="#7a7a12"/>
<circle cx="353.86" cy="355.8" r="1.5" fill="#7a7a12"/>
<circle cx="353.86" cy="358.6" r="1.5" fill="#7a7a12"/>
<line x1="352.56" y1="310.9" x2="355.16" y2="310.9" stroke="#000" stroke-width="1.1"/>
<circle cx="356.26" cy="397.5" r="1" fill="#a6eea0"/>
<circle cx="366.73" cy="397.5" r="1" fill="#000000"/>
<circle cx="369.13" cy="397.5" r="1" fill="#2d5be3"/>
<line x1="371.53" y1="180" x2="371.53" y2="267.6" stroke="#f0984e" stroke-width="1.45"/>
<line x1="371.53" y1="272.6" x2="371.53" y2="397.5" stroke="#f0984e" stroke-width="1.45"/>
<circle cx="371.53" cy="172.6" r="1.5" fill="#f28a34"/>
<circle cx="371.53" cy="259" r="1.5" fill="#f28a34"/>
<circle cx="371.53" cy="393.3" r="1.5" fill="#f28a34"/>
<line x1="370.23" y1="237.4" x2="372.83" y2="237.4" stroke="#000" stroke-width="1.1"/>
<line x1="373.93" y1="233" x2="373.93" y2="267.6" stroke="#6cbc6e" stroke-width="1.45"/>
<line x1="373.93" y1="272.6" x2="373.93" y2="397.5" stroke="#6cbc6e" stroke-width="1.45"/>
<circle cx="373.93" cy="233" r="1.5" fill="#33a045"/>
<circle cx="373.93" cy="264" r="1.5" fill="#33a045"/>
<circle cx="373.93" cy="324" r="1.5" fill="#33a045"/>
<circle cx="373.93" cy="335.8" r="1.5" fill="#33a045"/>
<circle cx="373.93" cy="396" r="1.5" fill="#33a045"/>
<line x1="372.63" y1="258" x2="375.23" y2="258" stroke="#000" stroke-width="1.1"/>
<line x1="376.33" y1="215" x2="376.33" y2="267.6" stroke="#dc6464" stroke-width="1.45"/>
<line x1="376.33" y1="272.6" x2="376.33" y2="397.5" stroke="#dc6464" stroke-width="1.45"/>
<circle cx="376.33" cy="198" r="1.5" fill="#dc2427"/>
<circle cx="376.33" cy="233" r="1.5" fill="#dc2427"/>
<circle cx="376.33" cy="265" r="1.5" fill="#dc2427"/>
<circle cx="376.33" cy="396" r="1.5" fill="#dc2427"/>
<line x1="375.03" y1="251" x2="377.63" y2="251" stroke="#000" stroke-width="1.1"/>
<line x1="378.73" y1="349.3" x2="378.73" y2="388.6" stroke="#b07e56" stroke-width="1.2"/>
<circle cx="378.73" cy="342.7" r="1.5" fill="#a0602e"/>
<circle cx="378.73" cy="353" r="1.5" fill="#a0602e"/>
<circle cx="378.73" cy="374.5" r="1.5" fill="#a0602e"/>
<circle cx="378.73" cy="379.2" r="1.5" fill="#a0602e"/>
<circle cx="378.73" cy="387.7" r="1.5" fill="#a0602e"/>
<line x1="377.43" y1="367" x2="380.03" y2="367" stroke="#000" stroke-width="1.1"/>
<circle cx="381.13" cy="397.5" r="1" fill="#9a55a8"/>
<circle cx="383.53" cy="397.5" r="1" fill="#f5c400"/>
<line x1="385.93" y1="255" x2="385.93" y2="267.6" stroke="#5aa8b8" stroke-width="1.25"/>
<line x1="385.93" y1="272.6" x2="385.93" y2="337" stroke="#5aa8b8" stroke-width="1.25"/>
<circle cx="385.93" cy="253.5" r="1.5" fill="#2a9fa8"/>
<circle cx="385.93" cy="260" r="1.5" fill="#2a9fa8"/>
<circle cx="385.93" cy="265" r="1.5" fill="#2a9fa8"/>
<circle cx="385.93" cy="311.8" r="1.5" fill="#2a9fa8"/>
<circle cx="385.93" cy="354.5" r="1.5" fill="#2a9fa8"/>
<line x1="384.63" y1="265.6" x2="387.23" y2="265.6" stroke="#000" stroke-width="1.1"/>
<line x1="388.33" y1="253" x2="388.33" y2="267.6" stroke="#9a9a48" stroke-width="1.4"/>
<line x1="388.33" y1="272.6" x2="388.33" y2="294" stroke="#9a9a48" stroke-width="1.4"/>
<circle cx="388.33" cy="253.6" r="1.5" fill="#7a7a12"/>
<circle cx="388.33" cy="262" r="1.5" fill="#7a7a12"/>
<circle cx="388.33" cy="314" r="1.5" fill="#7a7a12"/>
<line x1="387.03" y1="262.4" x2="389.63" y2="262.4" stroke="#000" stroke-width="1.1"/>
<circle cx="390.73" cy="397.5" r="1" fill="#a6eea0"/>
<circle cx="401.2" cy="397.5" r="1" fill="#000000"/>
<circle cx="403.6" cy="397.5" r="1" fill="#2d5be3"/>
<line x1="406" y1="165" x2="406" y2="267.6" stroke="#f0984e" stroke-width="1.45"/>
<line x1="406" y1="272.6" x2="406" y2="397.5" stroke="#f0984e" stroke-width="1.45"/>
<circle cx="406" cy="159" r="1.5" fill="#f28a34"/>
<circle cx="406" cy="241.6" r="1.5" fill="#f28a34"/>
<circle cx="406" cy="394" r="1.5" fill="#f28a34"/>
<line x1="404.7" y1="227" x2="407.3" y2="227" stroke="#000" stroke-width="1.1"/>
<line x1="408.4" y1="217" x2="408.4" y2="267.6" stroke="#6cbc6e" stroke-width="1.45"/>
<line x1="408.4" y1="272.6" x2="408.4" y2="397.5" stroke="#6cbc6e" stroke-width="1.45"/>
<circle cx="408.4" cy="189" r="1.5" fill="#33a045"/>
<circle cx="408.4" cy="259.4" r="1.5" fill="#33a045"/>
<circle cx="408.4" cy="338" r="1.5" fill="#33a045"/>
<circle cx="408.4" cy="356.8" r="1.5" fill="#33a045"/>
<circle cx="408.4" cy="396" r="1.5" fill="#33a045"/>
<line x1="407.1" y1="255.6" x2="409.7" y2="255.6" stroke="#000" stroke-width="1.1"/>
<line x1="410.8" y1="191.6" x2="410.8" y2="267.6" stroke="#dc6464" stroke-width="1.45"/>
<line x1="410.8" y1="272.6" x2="410.8" y2="397.5" stroke="#dc6464" stroke-width="1.45"/>
<circle cx="410.8" cy="182.6" r="1.5" fill="#dc2427"/>
<circle cx="410.8" cy="254.4" r="1.5" fill="#dc2427"/>
<circle cx="410.8" cy="396" r="1.5" fill="#dc2427"/>
<line x1="409.5" y1="238.4" x2="412.1" y2="238.4" stroke="#000" stroke-width="1.1"/>
<line x1="413.2" y1="350" x2="413.2" y2="387.7" stroke="#b07e56" stroke-width="1.2"/>
<circle cx="413.2" cy="347.4" r="1.5" fill="#a0602e"/>
<circle cx="413.2" cy="355" r="1.5" fill="#a0602e"/>
<circle cx="413.2" cy="373.6" r="1.5" fill="#a0602e"/>
<circle cx="413.2" cy="385.8" r="1.5" fill="#a0602e"/>
<circle cx="413.2" cy="389.5" r="1.5" fill="#a0602e"/>
<line x1="411.9" y1="370.8" x2="414.5" y2="370.8" stroke="#000" stroke-width="1.1"/>
<circle cx="415.6" cy="397.5" r="1" fill="#9a55a8"/>
<circle cx="418" cy="397.5" r="1" fill="#f5c400"/>
<line x1="420.4" y1="233" x2="420.4" y2="267.6" stroke="#5aa8b8" stroke-width="1.25"/>
<line x1="420.4" y1="272.6" x2="420.4" y2="307.7" stroke="#5aa8b8" stroke-width="1.25"/>
<circle cx="420.4" cy="233.3" r="1.5" fill="#2a9fa8"/>
<circle cx="420.4" cy="241.6" r="1.5" fill="#2a9fa8"/>
<circle cx="420.4" cy="262" r="1.5" fill="#2a9fa8"/>
<circle cx="420.4" cy="362" r="1.5" fill="#2a9fa8"/>
<line x1="419.1" y1="253" x2="421.7" y2="253" stroke="#000" stroke-width="1.1"/>
<line x1="422.8" y1="228" x2="422.8" y2="267.6" stroke="#9a9a48" stroke-width="1.4"/>
<line x1="422.8" y1="272.6" x2="422.8" y2="340" stroke="#9a9a48" stroke-width="1.4"/>
<circle cx="422.8" cy="212.7" r="1.5" fill="#7a7a12"/>
<circle cx="422.8" cy="253" r="1.5" fill="#7a7a12"/>
<circle cx="422.8" cy="258.8" r="1.5" fill="#7a7a12"/>
<circle cx="422.8" cy="351.5" r="1.5" fill="#7a7a12"/>
<line x1="421.5" y1="251" x2="424.1" y2="251" stroke="#000" stroke-width="1.1"/>
<circle cx="425.2" cy="397.5" r="1" fill="#a6eea0"/>
<circle cx="435.67" cy="397.5" r="1" fill="#000000"/>
<circle cx="438.07" cy="397.5" r="1" fill="#2d5be3"/>
<line x1="440.47" y1="169" x2="440.47" y2="267.6" stroke="#f0984e" stroke-width="1.45"/>
<line x1="440.47" y1="272.6" x2="440.47" y2="397.5" stroke="#f0984e" stroke-width="1.45"/>
<circle cx="440.47" cy="162.6" r="1.5" fill="#f28a34"/>
<circle cx="440.47" cy="248.2" r="1.5" fill="#f28a34"/>
<circle cx="440.47" cy="394" r="1.5" fill="#f28a34"/>
<line x1="439.17" y1="230" x2="441.77" y2="230" stroke="#000" stroke-width="1.1"/>
<line x1="442.87" y1="220" x2="442.87" y2="267.6" stroke="#6cbc6e" stroke-width="1.45"/>
<line x1="442.87" y1="272.6" x2="442.87" y2="397.5" stroke="#6cbc6e" stroke-width="1.45"/>
<circle cx="442.87" cy="188" r="1.5" fill="#33a045"/>
<circle cx="442.87" cy="262.4" r="1.5" fill="#33a045"/>
<circle cx="442.87" cy="356.4" r="1.5" fill="#33a045"/>
<circle cx="442.87" cy="378" r="1.5" fill="#33a045"/>
<circle cx="442.87" cy="396" r="1.5" fill="#33a045"/>
<line x1="441.57" y1="257" x2="444.17" y2="257" stroke="#000" stroke-width="1.1"/>
<line x1="445.27" y1="198.6" x2="445.27" y2="267.6" stroke="#dc6464" stroke-width="1.45"/>
<line x1="445.27" y1="272.6" x2="445.27" y2="397.5" stroke="#dc6464" stroke-width="1.45"/>
<circle cx="445.27" cy="186" r="1.5" fill="#dc2427"/>
<circle cx="445.27" cy="205.6" r="1.5" fill="#dc2427"/>
<circle cx="445.27" cy="260" r="1.5" fill="#dc2427"/>
<circle cx="445.27" cy="396" r="1.5" fill="#dc2427"/>
<line x1="443.97" y1="242.8" x2="446.57" y2="242.8" stroke="#000" stroke-width="1.1"/>
<line x1="447.67" y1="356.8" x2="447.67" y2="397.5" stroke="#b07e56" stroke-width="1.2"/>
<circle cx="447.67" cy="347.4" r="1.5" fill="#a0602e"/>
<circle cx="447.67" cy="369" r="1.5" fill="#a0602e"/>
<circle cx="447.67" cy="389.5" r="1.5" fill="#a0602e"/>
<line x1="446.37" y1="376.4" x2="448.97" y2="376.4" stroke="#000" stroke-width="1.1"/>
<circle cx="450.07" cy="397.5" r="1" fill="#9a55a8"/>
<circle cx="452.47" cy="397.5" r="1" fill="#f5c400"/>
<line x1="454.87" y1="237.6" x2="454.87" y2="267.6" stroke="#5aa8b8" stroke-width="1.25"/>
<line x1="454.87" y1="272.6" x2="454.87" y2="349.3" stroke="#5aa8b8" stroke-width="1.25"/>
<circle cx="454.87" cy="238.7" r="1.5" fill="#2a9fa8"/>
<circle cx="454.87" cy="247.5" r="1.5" fill="#2a9fa8"/>
<circle cx="454.87" cy="254.8" r="1.5" fill="#2a9fa8"/>
<circle cx="454.87" cy="336.7" r="1.5" fill="#2a9fa8"/>
<circle cx="454.87" cy="368" r="1.5" fill="#2a9fa8"/>
<line x1="453.57" y1="258.8" x2="456.17" y2="258.8" stroke="#000" stroke-width="1.1"/>
<line x1="457.27" y1="225.7" x2="457.27" y2="267.6" stroke="#9a9a48" stroke-width="1.4"/>
<line x1="457.27" y1="272.6" x2="457.27" y2="394" stroke="#9a9a48" stroke-width="1.4"/>
<circle cx="457.27" cy="212.7" r="1.5" fill="#7a7a12"/>
<circle cx="457.27" cy="256.5" r="1.5" fill="#7a7a12"/>
<circle cx="457.27" cy="263.6" r="1.5" fill="#7a7a12"/>
<circle cx="457.27" cy="358" r="1.5" fill="#7a7a12"/>
<line x1="455.97" y1="253" x2="458.57" y2="253" stroke="#000" stroke-width="1.1"/>
<circle cx="459.67" cy="397.5" r="1" fill="#a6eea0"/>
<circle cx="470.14" cy="397.5" r="1" fill="#000000"/>
<circle cx="472.54" cy="397.5" r="1" fill="#2d5be3"/>
<line x1="474.94" y1="169" x2="474.94" y2="267.6" stroke="#f0984e" stroke-width="1.45"/>
<line x1="474.94" y1="272.6" x2="474.94" y2="397.5" stroke="#f0984e" stroke-width="1.45"/>
<circle cx="474.94" cy="163.6" r="1.5" fill="#f28a34"/>
<circle cx="474.94" cy="241" r="1.5" fill="#f28a34"/>
<circle cx="474.94" cy="394" r="1.5" fill="#f28a34"/>
<line x1="473.64" y1="228" x2="476.24" y2="228" stroke="#000" stroke-width="1.1"/>
<line x1="477.34" y1="210.4" x2="477.34" y2="267.6" stroke="#6cbc6e" stroke-width="1.45"/>
<line x1="477.34" y1="272.6" x2="477.34" y2="397.5" stroke="#6cbc6e" stroke-width="1.45"/>
<circle cx="477.34" cy="190.8" r="1.5" fill="#33a045"/>
<circle cx="477.34" cy="262.9" r="1.5" fill="#33a045"/>
<circle cx="477.34" cy="356.2" r="1.5" fill="#33a045"/>
<circle cx="477.34" cy="383" r="1.5" fill="#33a045"/>
<circle cx="477.34" cy="396" r="1.5" fill="#33a045"/>
<line x1="476.04" y1="252.2" x2="478.64" y2="252.2" stroke="#000" stroke-width="1.1"/>
<line x1="479.74" y1="199" x2="479.74" y2="267.6" stroke="#dc6464" stroke-width="1.45"/>
<line x1="479.74" y1="272.6" x2="479.74" y2="397.5" stroke="#dc6464" stroke-width="1.45"/>
<circle cx="479.74" cy="184" r="1.5" fill="#dc2427"/>
<circle cx="479.74" cy="210" r="1.5" fill="#dc2427"/>
<circle cx="479.74" cy="259.6" r="1.5" fill="#dc2427"/>
<circle cx="479.74" cy="396" r="1.5" fill="#dc2427"/>
<line x1="478.44" y1="242.8" x2="481.04" y2="242.8" stroke="#000" stroke-width="1.1"/>
<line x1="482.14" y1="364.3" x2="482.14" y2="397.5" stroke="#b07e56" stroke-width="1.2"/>
<circle cx="482.14" cy="351.7" r="1.5" fill="#a0602e"/>
<circle cx="482.14" cy="382" r="1.5" fill="#a0602e"/>
<circle cx="482.14" cy="384.8" r="1.5" fill="#a0602e"/>
<circle cx="482.14" cy="387.7" r="1.5" fill="#a0602e"/>
<circle cx="482.14" cy="390.5" r="1.5" fill="#a0602e"/>
<line x1="480.84" y1="382" x2="483.44" y2="382" stroke="#000" stroke-width="1.1"/>
<circle cx="484.54" cy="397.5" r="1" fill="#9a55a8"/>
<circle cx="486.94" cy="397.5" r="1" fill="#f5c400"/>
<line x1="489.34" y1="225.7" x2="489.34" y2="267.6" stroke="#5aa8b8" stroke-width="1.25"/>
<line x1="489.34" y1="272.6" x2="489.34" y2="341.8" stroke="#5aa8b8" stroke-width="1.25"/>
<circle cx="489.34" cy="226.5" r="1.5" fill="#2a9fa8"/>
<circle cx="489.34" cy="235.2" r="1.5" fill="#2a9fa8"/>
<circle cx="489.34" cy="240" r="1.5" fill="#2a9fa8"/>
<circle cx="489.34" cy="250.6" r="1.5" fill="#2a9fa8"/>
<circle cx="489.34" cy="346.5" r="1.5" fill="#2a9fa8"/>
<circle cx="489.34" cy="367" r="1.5" fill="#2a9fa8"/>
<line x1="488.04" y1="251" x2="490.64" y2="251" stroke="#000" stroke-width="1.1"/>
<line x1="491.74" y1="173.7" x2="491.74" y2="267.6" stroke="#9a9a48" stroke-width="1.4"/>
<line x1="491.74" y1="272.6" x2="491.74" y2="394" stroke="#9a9a48" stroke-width="1.4"/>
<circle cx="491.74" cy="146" r="1.5" fill="#7a7a12"/>
<circle cx="491.74" cy="250" r="1.5" fill="#7a7a12"/>
<circle cx="491.74" cy="262" r="1.5" fill="#7a7a12"/>
<circle cx="491.74" cy="362.4" r="1.5" fill="#7a7a12"/>
<line x1="490.44" y1="233.5" x2="493.04" y2="233.5" stroke="#000" stroke-width="1.1"/>
<circle cx="494.14" cy="397.5" r="1" fill="#a6eea0"/>
<circle cx="504.61" cy="397.5" r="1" fill="#000000"/>
<circle cx="507.01" cy="397.5" r="1" fill="#2d5be3"/>
<line x1="509.41" y1="189" x2="509.41" y2="267.6" stroke="#f0984e" stroke-width="1.45"/>
<line x1="509.41" y1="272.6" x2="509.41" y2="397.5" stroke="#f0984e" stroke-width="1.45"/>
<circle cx="509.41" cy="184.8" r="1.5" fill="#f28a34"/>
<circle cx="509.41" cy="248.2" r="1.5" fill="#f28a34"/>
<circle cx="509.41" cy="394" r="1.5" fill="#f28a34"/>
<line x1="508.11" y1="237.6" x2="510.71" y2="237.6" stroke="#000" stroke-width="1.1"/>
<line x1="511.81" y1="209.2" x2="511.81" y2="267.6" stroke="#6cbc6e" stroke-width="1.45"/>
<line x1="511.81" y1="272.6" x2="511.81" y2="397.5" stroke="#6cbc6e" stroke-width="1.45"/>
<circle cx="511.81" cy="188.4" r="1.5" fill="#33a045"/>
<circle cx="511.81" cy="266.6" r="1.5" fill="#33a045"/>
<circle cx="511.81" cy="363" r="1.5" fill="#33a045"/>
<circle cx="511.81" cy="383" r="1.5" fill="#33a045"/>
<circle cx="511.81" cy="396" r="1.5" fill="#33a045"/>
<line x1="510.51" y1="253" x2="513.11" y2="253" stroke="#000" stroke-width="1.1"/>
<line x1="514.21" y1="204.5" x2="514.21" y2="267.6" stroke="#dc6464" stroke-width="1.45"/>
<line x1="514.21" y1="272.6" x2="514.21" y2="397.5" stroke="#dc6464" stroke-width="1.45"/>
<circle cx="514.21" cy="188.6" r="1.5" fill="#dc2427"/>
<circle cx="514.21" cy="216.3" r="1.5" fill="#dc2427"/>
<circle cx="514.21" cy="261.2" r="1.5" fill="#dc2427"/>
<circle cx="514.21" cy="396" r="1.5" fill="#dc2427"/>
<line x1="512.91" y1="245.8" x2="515.51" y2="245.8" stroke="#000" stroke-width="1.1"/>
<line x1="516.61" y1="370.8" x2="516.61" y2="397.5" stroke="#b07e56" stroke-width="1.2"/>
<circle cx="516.61" cy="358.6" r="1.5" fill="#a0602e"/>
<circle cx="516.61" cy="392.3" r="1.5" fill="#a0602e"/>
<line x1="515.31" y1="386.7" x2="517.91" y2="386.7" stroke="#000" stroke-width="1.1"/>
<circle cx="519.01" cy="397.5" r="1" fill="#9a55a8"/>
<circle cx="521.41" cy="397.5" r="1" fill="#f5c400"/>
<line x1="523.81" y1="229.3" x2="523.81" y2="267.6" stroke="#5aa8b8" stroke-width="1.25"/>
<line x1="523.81" y1="272.6" x2="523.81" y2="345.5" stroke="#5aa8b8" stroke-width="1.25"/>
<circle cx="523.81" cy="230.5" r="1.5" fill="#2a9fa8"/>
<circle cx="523.81" cy="236.4" r="1.5" fill="#2a9fa8"/>
<circle cx="523.81" cy="354.3" r="1.5" fill="#2a9fa8"/>
<circle cx="523.81" cy="373.6" r="1.5" fill="#2a9fa8"/>
<line x1="522.51" y1="252.2" x2="525.11" y2="252.2" stroke="#000" stroke-width="1.1"/>
<line x1="526.21" y1="175" x2="526.21" y2="267.6" stroke="#9a9a48" stroke-width="1.4"/>
<line x1="526.21" y1="272.6" x2="526.21" y2="394" stroke="#9a9a48" stroke-width="1.4"/>
<circle cx="526.21" cy="146" r="1.5" fill="#7a7a12"/>
<circle cx="526.21" cy="252.5" r="1.5" fill="#7a7a12"/>
<circle cx="526.21" cy="280" r="1.5" fill="#7a7a12"/>
<circle cx="526.21" cy="369" r="1.5" fill="#7a7a12"/>
<line x1="524.91" y1="236" x2="527.51" y2="236" stroke="#000" stroke-width="1.1"/>
<circle cx="528.61" cy="397.5" r="1" fill="#a6eea0"/>
<rect x="200.2" y="249.5" width="41.4" height="5.6" fill="none" stroke="#555" stroke-width="0.8"/>
<text x="200" y="247.4" font-size="7.5" textLength="45" lengthAdjust="spacing">&gt; 20,000 IU/L</text>
<rect x="265" y="223" width="13" height="5.6" fill="none" stroke="#555" stroke-width="0.8"/>
<text x="248.6" y="221.7" font-size="7.5" textLength="46" lengthAdjust="spacing">&gt; 40,000 IU/L</text>
<rect x="365.2" y="170" width="12.2" height="5.1" fill="none" stroke="#555" stroke-width="0.8"/>
<text x="352" y="167.52" font-size="7" textLength="41.6" lengthAdjust="spacing">&gt; 80,000 IU/L</text>
<rect x="385" y="249" width="6.6" height="6.2" fill="none" stroke="#555" stroke-width="0.8"/>
<text x="364.6" y="247.52" font-size="7" textLength="41.4" lengthAdjust="spacing">&gt; 20,000 IU/L</text>
<rect x="418.5" y="210" width="43.8" height="5.2" fill="none" stroke="#555" stroke-width="0.8"/>
<text x="420.2" y="221.16" font-size="7.1" textLength="42.1" lengthAdjust="spacing">&gt; 50,000 IU/L</text>
<rect x="488.3" y="143" width="42.1" height="5.4" fill="none" stroke="#555" stroke-width="0.8"/>
<text x="489.5" y="156.92" font-size="7" textLength="44.9" lengthAdjust="spacing">&gt; 100,000 IU/L</text>
<circle cx="423.3" cy="212.7" r="1.5" fill="#7a7a12"/>
<circle cx="457.5" cy="212.7" r="1.5" fill="#7a7a12"/>
<circle cx="491.8" cy="145.8" r="1.5" fill="#7a7a12"/>
<circle cx="526.6" cy="145.8" r="1.5" fill="#7a7a12"/>
<text x="8" y="445.9" font-size="21" style="font-family:Liberation Serif, Times New Roman, serif;stroke-width:0.1px">c</text>
<line x1="45.2" y1="452.5" x2="45.2" y2="521" stroke="#000" stroke-width="1.2"/>
<line x1="41.7" y1="521" x2="48.2" y2="521" stroke="#000" stroke-width="1"/>
<line x1="42.2" y1="453.2" x2="45.2" y2="453.2" stroke="#000" stroke-width="1"/>
<text x="40.6" y="455.9" font-size="7.5" text-anchor="end">2000</text>
<line x1="42.2" y1="471.1" x2="45.2" y2="471.1" stroke="#000" stroke-width="1"/>
<text x="40.6" y="473.8" font-size="7.5" text-anchor="end">1500</text>
<line x1="42.2" y1="489.1" x2="45.2" y2="489.1" stroke="#000" stroke-width="1"/>
<text x="40.6" y="491.8" font-size="7.5" text-anchor="end">1000</text>
<line x1="42.2" y1="507" x2="45.2" y2="507" stroke="#000" stroke-width="1"/>
<text x="40.6" y="509.7" font-size="7.5" text-anchor="end">500</text>
<line x1="45.2" y1="525.3" x2="45.2" y2="566.6" stroke="#000" stroke-width="1.2"/>
<line x1="41.7" y1="525.3" x2="48.2" y2="525.3" stroke="#000" stroke-width="1"/>
<line x1="42.2" y1="525.3" x2="45.2" y2="525.3" stroke="#000" stroke-width="1"/>
<text x="40.6" y="528" font-size="7.5" text-anchor="end">100</text>
<line x1="42.2" y1="546" x2="45.2" y2="546" stroke="#000" stroke-width="1"/>
<text x="40.6" y="548.7" font-size="7.5" text-anchor="end">50</text>
<line x1="42.2" y1="566.6" x2="45.2" y2="566.6" stroke="#000" stroke-width="1"/>
<text x="40.6" y="569.3" font-size="7.5" text-anchor="end">0</text>
<line x1="43.2" y1="562.47" x2="45.2" y2="562.47" stroke="#000" stroke-width="0.8"/>
<line x1="43.2" y1="558.34" x2="45.2" y2="558.34" stroke="#000" stroke-width="0.8"/>
<line x1="43.2" y1="554.21" x2="45.2" y2="554.21" stroke="#000" stroke-width="0.8"/>
<line x1="43.2" y1="550.08" x2="45.2" y2="550.08" stroke="#000" stroke-width="0.8"/>
<line x1="43.2" y1="541.82" x2="45.2" y2="541.82" stroke="#000" stroke-width="0.8"/>
<line x1="43.2" y1="537.69" x2="45.2" y2="537.69" stroke="#000" stroke-width="0.8"/>
<line x1="43.2" y1="533.56" x2="45.2" y2="533.56" stroke="#000" stroke-width="0.8"/>
<line x1="43.2" y1="529.43" x2="45.2" y2="529.43" stroke="#000" stroke-width="0.8"/>
<text x="20.4" y="506.8" font-size="7.35" text-anchor="middle" transform="rotate(-90 20.4 506.8)">HBsAb (IU/L)</text>
<line x1="45.2" y1="566.6" x2="210" y2="566.6" stroke="#000" stroke-width="1.2"/>
<line x1="50.5" y1="566.6" x2="50.5" y2="569.8" stroke="#000" stroke-width="1"/>
<line x1="60.24" y1="566.6" x2="60.24" y2="568.6" stroke="#000" stroke-width="1"/>
<line x1="69.98" y1="566.6" x2="69.98" y2="569.8" stroke="#000" stroke-width="1"/>
<line x1="79.72" y1="566.6" x2="79.72" y2="568.6" stroke="#000" stroke-width="1"/>
<line x1="89.46" y1="566.6" x2="89.46" y2="569.8" stroke="#000" stroke-width="1"/>
<line x1="99.2" y1="566.6" x2="99.2" y2="568.6" stroke="#000" stroke-width="1"/>
<line x1="108.94" y1="566.6" x2="108.94" y2="569.8" stroke="#000" stroke-width="1"/>
<line x1="118.68" y1="566.6" x2="118.68" y2="568.6" stroke="#000" stroke-width="1"/>
<line x1="128.42" y1="566.6" x2="128.42" y2="569.8" stroke="#000" stroke-width="1"/>
<line x1="138.16" y1="566.6" x2="138.16" y2="568.6" stroke="#000" stroke-width="1"/>
<line x1="147.9" y1="566.6" x2="147.9" y2="569.8" stroke="#000" stroke-width="1"/>
<line x1="157.64" y1="566.6" x2="157.64" y2="568.6" stroke="#000" stroke-width="1"/>
<line x1="167.38" y1="566.6" x2="167.38" y2="569.8" stroke="#000" stroke-width="1"/>
<line x1="177.12" y1="566.6" x2="177.12" y2="568.6" stroke="#000" stroke-width="1"/>
<line x1="186.86" y1="566.6" x2="186.86" y2="569.8" stroke="#000" stroke-width="1"/>
<line x1="196.6" y1="566.6" x2="196.6" y2="568.6" stroke="#000" stroke-width="1"/>
<line x1="206.34" y1="566.6" x2="206.34" y2="569.8" stroke="#000" stroke-width="1"/>
<text x="50.5" y="577.5" font-size="7.6" text-anchor="middle">0</text>
<text x="69.98" y="577.5" font-size="7.6" text-anchor="middle">4</text>
<text x="89.46" y="577.5" font-size="7.6" text-anchor="middle">8</text>
<text x="108.94" y="577.5" font-size="7.6" text-anchor="middle">12</text>
<text x="128.42" y="577.5" font-size="7.6" text-anchor="middle">16</text>
<text x="147.9" y="577.5" font-size="7.6" text-anchor="middle">20</text>
<text x="167.38" y="577.5" font-size="7.6" text-anchor="middle">24</text>
<text x="186.86" y="577.5" font-size="7.6" text-anchor="middle">28</text>
<text x="206.34" y="577.5" font-size="7.6" text-anchor="middle">32</text>
<text x="125.6" y="587.9" font-size="7.45" text-anchor="middle">Weeks post prime vaccination</text>
<polyline points="50.5,566.6 60.24,564 69.98,548 79.72,509.7 89.46,518 99.2,520.2 108.94,520.2 118.68,535.8 128.42,540 138.16,512.5 147.9,516.1 167.38,517 186.86,517.4 206.34,518.5" fill="none" stroke="#222" stroke-width="0.7"/>
<polyline points="50.5,566.6 60.24,542.8 69.98,532.7 79.72,512.5 89.46,514.3 99.2,514.9 108.94,520.2 118.68,520.2 128.42,520.2 138.16,512.5 147.9,512 167.38,515.6 186.86,520.4 206.34,545" fill="none" stroke="#222" stroke-width="0.7"/>
<polyline points="50.5,566.6 60.24,565 69.98,520.7 79.72,507.5 89.46,519.3 99.2,520.2 108.94,544 118.68,549.7 128.42,555.6 138.16,496.3 147.9,505.1 167.38,518 186.86,520.4" fill="none" stroke="#222" stroke-width="0.7"/>
<polyline points="50.5,566.6 60.24,565 69.98,545 79.72,532.7 89.46,519.6 99.2,520.4 108.94,546.4 118.68,552.3 128.42,551 138.16,556.5 147.9,554.7 167.38,554.1 186.86,566.2 206.34,566.6" fill="none" stroke="#222" stroke-width="0.7"/>
<polyline points="50.5,566.6 60.24,563 69.98,544 79.72,554.7 89.46,555.2 99.2,553.2 108.94,552.3 118.68,558.3 128.42,558.3 138.16,473 147.9,490 167.38,504.8 186.86,507 206.34,510.1" fill="none" stroke="#222" stroke-width="0.7"/>
<polyline points="50.5,566.6 60.24,566 69.98,550 79.72,520.7 89.46,532.7 99.2,529.4 108.94,535.8 118.68,545 128.42,555.6 138.16,520.2 147.9,532.1 167.38,537.2 186.86,539 206.34,552" fill="none" stroke="#222" stroke-width="0.7"/>
<rect x="38" y="521.7" width="175" height="3" fill="#fff"/>
<line x1="41.7" y1="521" x2="48.2" y2="521" stroke="#000" stroke-width="1"/>
<line x1="41.7" y1="525.3" x2="48.2" y2="525.3" stroke="#000" stroke-width="1"/>
<path d="M50.5,564.61 L48.51,568.2 L52.49,568.2 Z"/>
<path d="M60.24,562 L58.25,565.6 L62.23,565.6 Z"/>
<path d="M69.98,546 L67.98,549.6 L71.98,549.6 Z"/>
<path d="M79.72,507.7 L77.72,511.3 L81.72,511.3 Z"/>
<path d="M89.46,516 L87.47,519.6 L91.46,519.6 Z"/>
<path d="M99.2,518.21 L97.2,521.8 L101.2,521.8 Z"/>
<path d="M108.94,518.21 L106.94,521.8 L110.94,521.8 Z"/>
<path d="M118.68,533.8 L116.69,537.4 L120.68,537.4 Z"/>
<path d="M128.42,538 L126.43,541.6 L130.42,541.6 Z"/>
<path d="M138.16,510.5 L136.16,514.1 L140.16,514.1 Z"/>
<path d="M147.9,514.11 L145.91,517.7 L149.9,517.7 Z"/>
<path d="M167.38,515 L165.38,518.6 L169.38,518.6 Z"/>
<path d="M186.86,515.4 L184.87,519 L188.86,519 Z"/>
<path d="M206.34,516.5 L204.34,520.1 L208.34,520.1 Z"/>
<path d="M50.5,565.08 L52.02,566.6 L50.5,568.12 L48.98,566.6 Z"/>
<path d="M60.24,541.28 L61.76,542.8 L60.24,544.32 L58.72,542.8 Z"/>
<path d="M69.98,531.18 L71.5,532.7 L69.98,534.22 L68.46,532.7 Z"/>
<path d="M79.72,510.98 L81.24,512.5 L79.72,514.02 L78.2,512.5 Z"/>
<path d="M89.46,512.78 L90.98,514.3 L89.46,515.82 L87.94,514.3 Z"/>
<path d="M99.2,513.38 L100.72,514.9 L99.2,516.42 L97.68,514.9 Z"/>
<path d="M108.94,518.68 L110.46,520.2 L108.94,521.72 L107.42,520.2 Z"/>
<path d="M118.68,518.68 L120.2,520.2 L118.68,521.72 L117.16,520.2 Z"/>
<path d="M128.42,518.68 L129.94,520.2 L128.42,521.72 L126.9,520.2 Z"/>
<path d="M138.16,510.98 L139.68,512.5 L138.16,514.02 L136.64,512.5 Z"/>
<path d="M147.9,510.48 L149.42,512 L147.9,513.52 L146.38,512 Z"/>
<path d="M167.38,514.08 L168.9,515.6 L167.38,517.12 L165.86,515.6 Z"/>
<path d="M186.86,518.88 L188.38,520.4 L186.86,521.92 L185.34,520.4 Z"/>
<path d="M206.34,543.48 L207.86,545 L206.34,546.52 L204.82,545 Z"/>
<circle cx="50.5" cy="566.6" r="2.09" fill="#000"/>
<circle cx="60.24" cy="565" r="2.09" fill="#000"/>
<circle cx="69.98" cy="520.7" r="2.09" fill="#000"/>
<circle cx="79.72" cy="507.5" r="2.09" fill="#000"/>
<circle cx="89.46" cy="519.3" r="2.09" fill="#000"/>
<circle cx="99.2" cy="520.2" r="2.09" fill="#000"/>
<circle cx="108.94" cy="544" r="2.09" fill="#000"/>
<circle cx="118.68" cy="549.7" r="2.09" fill="#000"/>
<circle cx="128.42" cy="555.6" r="2.09" fill="#000"/>
<circle cx="138.16" cy="496.3" r="2.09" fill="#000"/>
<circle cx="147.9" cy="505.1" r="2.09" fill="#000"/>
<circle cx="167.38" cy="518" r="2.09" fill="#000"/>
<circle cx="186.86" cy="520.4" r="2.09" fill="#000"/>
<path d="M50.5,568.6 L48.51,565 L52.49,565 Z"/>
<path d="M60.24,567 L58.25,563.4 L62.23,563.4 Z"/>
<path d="M69.98,547 L67.98,543.4 L71.98,543.4 Z"/>
<path d="M79.72,534.7 L77.72,531.1 L81.72,531.1 Z"/>
<path d="M89.46,521.6 L87.47,518 L91.46,518 Z"/>
<path d="M99.2,522.39 L97.2,518.8 L101.2,518.8 Z"/>
<path d="M108.94,548.39 L106.94,544.8 L110.94,544.8 Z"/>
<path d="M118.68,554.29 L116.69,550.7 L120.68,550.7 Z"/>
<path d="M128.42,553 L126.43,549.4 L130.42,549.4 Z"/>
<path d="M138.16,558.5 L136.16,554.9 L140.16,554.9 Z"/>
<path d="M147.9,556.7 L145.91,553.1 L149.9,553.1 Z"/>
<path d="M167.38,556.1 L165.38,552.5 L169.38,552.5 Z"/>
<path d="M186.86,568.2 L184.87,564.6 L188.86,564.6 Z"/>
<path d="M206.34,568.6 L204.34,565 L208.34,565 Z"/>
<rect x="48.6" y="564.7" width="3.8" height="3.8" fill="#000"/>
<rect x="58.34" y="561.1" width="3.8" height="3.8" fill="#000"/>
<rect x="68.08" y="542.1" width="3.8" height="3.8" fill="#000"/>
<rect x="77.82" y="552.8" width="3.8" height="3.8" fill="#000"/>
<rect x="87.56" y="553.3" width="3.8" height="3.8" fill="#000"/>
<rect x="97.3" y="551.3" width="3.8" height="3.8" fill="#000"/>
<rect x="107.04" y="550.4" width="3.8" height="3.8" fill="#000"/>
<rect x="116.78" y="556.4" width="3.8" height="3.8" fill="#000"/>
<rect x="126.52" y="556.4" width="3.8" height="3.8" fill="#000"/>
<rect x="136.26" y="471.1" width="3.8" height="3.8" fill="#000"/>
<rect x="146" y="488.1" width="3.8" height="3.8" fill="#000"/>
<rect x="165.48" y="502.9" width="3.8" height="3.8" fill="#000"/>
<rect x="184.96" y="505.1" width="3.8" height="3.8" fill="#000"/>
<rect x="204.44" y="508.2" width="3.8" height="3.8" fill="#000"/>
<circle cx="50.5" cy="566.6" r="1.71" fill="#000"/>
<circle cx="60.24" cy="566" r="1.71" fill="#000"/>
<circle cx="69.98" cy="550" r="1.71" fill="#000"/>
<circle cx="79.72" cy="520.7" r="1.71" fill="#000"/>
<circle cx="89.46" cy="532.7" r="1.71" fill="#000"/>
<circle cx="99.2" cy="529.4" r="1.71" fill="#000"/>
<circle cx="108.94" cy="535.8" r="1.71" fill="#000"/>
<circle cx="118.68" cy="545" r="1.71" fill="#000"/>
<circle cx="128.42" cy="555.6" r="1.71" fill="#000"/>
<circle cx="138.16" cy="520.2" r="1.71" fill="#000"/>
<circle cx="147.9" cy="532.1" r="1.71" fill="#000"/>
<circle cx="167.38" cy="537.2" r="1.71" fill="#000"/>
<circle cx="186.86" cy="539" r="1.71" fill="#000"/>
<circle cx="206.34" cy="552" r="1.71" fill="#000"/>
<line x1="212.6" y1="455.7" x2="222.3" y2="455.7" stroke="#444" stroke-width="0.7"/>
<path d="M217.5,454.12 L215.93,456.96 L219.07,456.96 Z"/>
<text x="228.4" y="458.4" font-size="7.42">L+M+S mRNA (5+5+5 μg) #2</text>
<line x1="212.6" y1="465.76" x2="222.3" y2="465.76" stroke="#444" stroke-width="0.7"/>
<path d="M217.5,464.56 L218.7,465.76 L217.5,466.96 L216.3,465.76 Z"/>
<text x="228.4" y="468.46" font-size="7.42">L+M+S mRNA (10+10+10 μg) #5</text>
<line x1="212.6" y1="475.82" x2="222.3" y2="475.82" stroke="#444" stroke-width="0.7"/>
<circle cx="217.5" cy="475.82" r="1.65" fill="#000"/>
<text x="228.4" y="478.52" font-size="7.42">L+S mRNA (5+5 μg) #3</text>
<line x1="212.6" y1="485.88" x2="222.3" y2="485.88" stroke="#444" stroke-width="0.7"/>
<path d="M217.5,487.45 L215.93,484.62 L219.07,484.62 Z"/>
<text x="228.4" y="488.58" font-size="7.42">L+S mRNA (5+5 μg) #4</text>
<line x1="212.6" y1="495.94" x2="222.3" y2="495.94" stroke="#444" stroke-width="0.7"/>
<rect x="216" y="494.44" width="3" height="3" fill="#000"/>
<text x="228.4" y="498.64" font-size="7.42">L+S mRNA (10+10 μg) #2</text>
<line x1="212.6" y1="506" x2="222.3" y2="506" stroke="#444" stroke-width="0.7"/>
<circle cx="217.5" cy="506" r="1.35" fill="#000"/>
<text x="228.4" y="508.7" font-size="7.42">L+S mRNA (10+10 μg) #4</text>
<text x="348.7" y="446.2" font-size="21.2" style="font-family:Liberation Serif, Times New Roman, serif;stroke-width:0.1px">d</text>
<text x="458.5" y="456.3" font-size="7.73" text-anchor="middle">Correlation analysis</text>
<line x1="384.9" y1="469" x2="384.9" y2="566.7" stroke="#000" stroke-width="1.2"/>
<line x1="381.4" y1="469.4" x2="384.9" y2="469.4" stroke="#000" stroke-width="1"/>
<text x="380.9" y="472.2" font-size="7.6" text-anchor="end">25,000</text>
<line x1="381.4" y1="488.86" x2="384.9" y2="488.86" stroke="#000" stroke-width="1"/>
<text x="380.9" y="491.66" font-size="7.6" text-anchor="end">20,000</text>
<line x1="381.4" y1="508.32" x2="384.9" y2="508.32" stroke="#000" stroke-width="1"/>
<text x="380.9" y="511.12" font-size="7.6" text-anchor="end">15,000</text>
<line x1="381.4" y1="527.78" x2="384.9" y2="527.78" stroke="#000" stroke-width="1"/>
<text x="380.9" y="530.58" font-size="7.6" text-anchor="end">10,000</text>
<line x1="381.4" y1="547.24" x2="384.9" y2="547.24" stroke="#000" stroke-width="1"/>
<text x="380.9" y="550.04" font-size="7.6" text-anchor="end">5,000</text>
<line x1="381.4" y1="566.7" x2="384.9" y2="566.7" stroke="#000" stroke-width="1"/>
<text x="380.9" y="569.5" font-size="7.6" text-anchor="end">0</text>
<line x1="384.9" y1="566.7" x2="531.5" y2="566.7" stroke="#000" stroke-width="1.2"/>
<line x1="385.1" y1="566.7" x2="385.1" y2="570.2" stroke="#000" stroke-width="1"/>
<text x="385.1" y="578.4" font-size="7.8" text-anchor="middle">0.0</text>
<line x1="414.3" y1="566.7" x2="414.3" y2="570.2" stroke="#000" stroke-width="1"/>
<text x="414.3" y="578.4" font-size="7.8" text-anchor="middle">0.2</text>
<line x1="443.5" y1="566.7" x2="443.5" y2="570.2" stroke="#000" stroke-width="1"/>
<text x="443.5" y="578.4" font-size="7.8" text-anchor="middle">0.4</text>
<line x1="472.7" y1="566.7" x2="472.7" y2="570.2" stroke="#000" stroke-width="1"/>
<text x="472.7" y="578.4" font-size="7.8" text-anchor="middle">0.6</text>
<line x1="501.9" y1="566.7" x2="501.9" y2="570.2" stroke="#000" stroke-width="1"/>
<text x="501.9" y="578.4" font-size="7.8" text-anchor="middle">0.8</text>
<line x1="531.1" y1="566.7" x2="531.1" y2="570.2" stroke="#000" stroke-width="1"/>
<text x="531.1" y="578.4" font-size="7.8" text-anchor="middle">1.0</text>
<text x="458.9" y="587.9" font-size="7.84" text-anchor="middle">HBsAg: (0 day – 42 day) / 0 day</text>
<text x="353.3" y="518" font-size="7.8" text-anchor="middle" transform="rotate(-90 353.3 518)">HBsAb (IU/L): 42 day</text>
<text x="458.8" y="489" font-size="7.75" text-anchor="middle" font-style="italic">r = 0.2569</text>
<text x="458.3" y="498.4" font-size="7.6" text-anchor="middle" font-style="italic">p = 0.3196</text>
<line x1="385.1" y1="551.2" x2="519.3" y2="536.9" stroke="#000" stroke-width="0.7"/>
<circle cx="388.6" cy="531" r="2.2" fill="#000"/>
<circle cx="400.8" cy="529.6" r="2.2" fill="#000"/>
<circle cx="400.8" cy="545.7" r="2.2" fill="#000"/>
<circle cx="419.2" cy="491.8" r="2.2" fill="#000"/>
<circle cx="419.7" cy="549.9" r="2.2" fill="#000"/>
<circle cx="427.6" cy="556.8" r="2.2" fill="#000"/>
<circle cx="442.3" cy="548.3" r="2.2" fill="#000"/>
<circle cx="389.9" cy="562.5" r="2.2" fill="#000"/>
<circle cx="390.3" cy="566.3" r="2.2" fill="#000"/>
<circle cx="394.5" cy="564.8" r="2.2" fill="#000"/>
<circle cx="401.4" cy="564.8" r="2.2" fill="#000"/>
<circle cx="408.8" cy="561.4" r="2.2" fill="#000"/>
<circle cx="408.8" cy="566.3" r="2.2" fill="#000"/>
<circle cx="515.3" cy="508.7" r="2.2" fill="#000"/>
<circle cx="519.3" cy="538.3" r="2.2" fill="#000"/>
<circle cx="514.6" cy="549.6" r="2.2" fill="#000"/>
<circle cx="505.1" cy="560.7" r="2.2" fill="#000"/>
<text x="8.4" y="611.7" font-size="21" style="font-family:Liberation Serif, Times New Roman, serif;stroke-width:0.1px">e</text>
<line x1="50.4" y1="617" x2="50.4" y2="717.7" stroke="#000" stroke-width="1.2"/>
<line x1="46.9" y1="717.7" x2="50.4" y2="717.7" stroke="#000" stroke-width="1"/>
<text x="45.4" y="720.6" font-size="8.2" text-anchor="end">0</text>
<line x1="46.9" y1="692.7" x2="50.4" y2="692.7" stroke="#000" stroke-width="1"/>
<text x="45.4" y="695.6" font-size="8.2" text-anchor="end">1</text>
<line x1="46.9" y1="667.7" x2="50.4" y2="667.7" stroke="#000" stroke-width="1"/>
<text x="45.4" y="670.6" font-size="8.2" text-anchor="end">2</text>
<line x1="46.9" y1="642.7" x2="50.4" y2="642.7" stroke="#000" stroke-width="1"/>
<text x="45.4" y="645.6" font-size="8.2" text-anchor="end">3</text>
<line x1="46.9" y1="617.7" x2="50.4" y2="617.7" stroke="#000" stroke-width="1"/>
<text x="45.4" y="620.6" font-size="8.2" text-anchor="end">4</text>
<text x="37.8" y="670.7" font-size="6.4" text-anchor="middle" transform="rotate(-90 37.8 670.7)">OD450-OD630</text>
<line x1="54.65" y1="708.95" x2="54.65" y2="711.95" stroke="#666" stroke-width="0.6"/>
<line x1="53.4" y1="708.95" x2="55.9" y2="708.95" stroke="#666" stroke-width="0.6"/>
<rect x="52.6" y="711.95" width="4.1" height="5.75" fill="#000000" rx="0.6"/>
<line x1="60.73" y1="711.95" x2="60.73" y2="712.7" stroke="#666" stroke-width="0.6"/>
<line x1="59.48" y1="711.95" x2="61.98" y2="711.95" stroke="#666" stroke-width="0.6"/>
<rect x="58.68" y="712.7" width="4.1" height="5" fill="#f07a28" rx="0.6"/>
<line x1="66.81" y1="650.7" x2="66.81" y2="652.7" stroke="#666" stroke-width="0.6"/>
<line x1="65.56" y1="650.7" x2="68.06" y2="650.7" stroke="#666" stroke-width="0.6"/>
<rect x="64.76" y="652.7" width="4.1" height="65" fill="#5b9bd8" rx="0.6"/>
<line x1="72.89" y1="660.2" x2="72.89" y2="666.45" stroke="#666" stroke-width="0.6"/>
<line x1="71.64" y1="660.2" x2="74.14" y2="660.2" stroke="#666" stroke-width="0.6"/>
<rect x="70.84" y="666.45" width="4.1" height="51.25" fill="#9b5ba8" rx="0.6"/>
<line x1="78.97" y1="677.2" x2="78.97" y2="685.2" stroke="#666" stroke-width="0.6"/>
<line x1="77.72" y1="677.2" x2="80.22" y2="677.2" stroke="#666" stroke-width="0.6"/>
<rect x="76.92" y="685.2" width="4.1" height="32.5" fill="#d4d672" rx="0.6"/>
<line x1="85.05" y1="712.95" x2="85.05" y2="713.7" stroke="#666" stroke-width="0.6"/>
<line x1="83.8" y1="712.95" x2="86.3" y2="712.95" stroke="#666" stroke-width="0.6"/>
<rect x="83" y="713.7" width="4.1" height="4" fill="#5a9e1f" rx="0.6"/>
<line x1="91.13" y1="691.2" x2="91.13" y2="691.7" stroke="#666" stroke-width="0.6"/>
<line x1="89.88" y1="691.2" x2="92.38" y2="691.2" stroke="#666" stroke-width="0.6"/>
<rect x="89.08" y="691.7" width="4.1" height="26" fill="#606060" rx="0.6"/>
<line x1="97.21" y1="694.2" x2="97.21" y2="697.2" stroke="#666" stroke-width="0.6"/>
<line x1="95.96" y1="694.2" x2="98.46" y2="694.2" stroke="#666" stroke-width="0.6"/>
<rect x="95.16" y="697.2" width="4.1" height="20.5" fill="#e0982f" rx="0.6"/>
<line x1="109.35" y1="714.7" x2="109.35" y2="715.2" stroke="#666" stroke-width="0.6"/>
<line x1="108.1" y1="714.7" x2="110.6" y2="714.7" stroke="#666" stroke-width="0.6"/>
<rect x="107.3" y="715.2" width="4.1" height="2.5" fill="#000000" rx="0.6"/>
<line x1="115.43" y1="712.7" x2="115.43" y2="714.2" stroke="#666" stroke-width="0.6"/>
<line x1="114.18" y1="712.7" x2="116.68" y2="712.7" stroke="#666" stroke-width="0.6"/>
<rect x="113.38" y="714.2" width="4.1" height="3.5" fill="#f07a28" rx="0.6"/>
<line x1="121.51" y1="653.45" x2="121.51" y2="654.2" stroke="#666" stroke-width="0.6"/>
<line x1="120.26" y1="653.45" x2="122.76" y2="653.45" stroke="#666" stroke-width="0.6"/>
<rect x="119.46" y="654.2" width="4.1" height="63.5" fill="#5b9bd8" rx="0.6"/>
<line x1="127.59" y1="647.2" x2="127.59" y2="648.95" stroke="#666" stroke-width="0.6"/>
<line x1="126.34" y1="647.2" x2="128.84" y2="647.2" stroke="#666" stroke-width="0.6"/>
<rect x="125.54" y="648.95" width="4.1" height="68.75" fill="#9b5ba8" rx="0.6"/>
<line x1="133.67" y1="686.45" x2="133.67" y2="691.95" stroke="#666" stroke-width="0.6"/>
<line x1="132.42" y1="686.45" x2="134.92" y2="686.45" stroke="#666" stroke-width="0.6"/>
<rect x="131.62" y="691.95" width="4.1" height="25.75" fill="#d4d672" rx="0.6"/>
<line x1="139.75" y1="643.95" x2="139.75" y2="645.7" stroke="#666" stroke-width="0.6"/>
<line x1="138.5" y1="643.95" x2="141" y2="643.95" stroke="#666" stroke-width="0.6"/>
<rect x="137.7" y="645.7" width="4.1" height="72" fill="#5a9e1f" rx="0.6"/>
<line x1="145.83" y1="643.45" x2="145.83" y2="644.45" stroke="#666" stroke-width="0.6"/>
<line x1="144.58" y1="643.45" x2="147.08" y2="643.45" stroke="#666" stroke-width="0.6"/>
<rect x="143.78" y="644.45" width="4.1" height="73.25" fill="#606060" rx="0.6"/>
<line x1="151.91" y1="712.7" x2="151.91" y2="713.7" stroke="#666" stroke-width="0.6"/>
<line x1="150.66" y1="712.7" x2="153.16" y2="712.7" stroke="#666" stroke-width="0.6"/>
<rect x="149.86" y="713.7" width="4.1" height="4" fill="#e0982f" rx="0.6"/>
<line x1="163.75" y1="702.45" x2="163.75" y2="702.95" stroke="#666" stroke-width="0.6"/>
<line x1="162.5" y1="702.45" x2="165" y2="702.45" stroke="#666" stroke-width="0.6"/>
<rect x="161.7" y="702.95" width="4.1" height="14.75" fill="#000000" rx="0.6"/>
<line x1="169.83" y1="708.7" x2="169.83" y2="709.45" stroke="#666" stroke-width="0.6"/>
<line x1="168.58" y1="708.7" x2="171.08" y2="708.7" stroke="#666" stroke-width="0.6"/>
<rect x="167.78" y="709.45" width="4.1" height="8.25" fill="#f07a28" rx="0.6"/>
<line x1="175.91" y1="637.7" x2="175.91" y2="638.45" stroke="#666" stroke-width="0.6"/>
<line x1="174.66" y1="637.7" x2="177.16" y2="637.7" stroke="#666" stroke-width="0.6"/>
<rect x="173.86" y="638.45" width="4.1" height="79.25" fill="#5b9bd8" rx="0.6"/>
<line x1="181.99" y1="638.45" x2="181.99" y2="639.45" stroke="#666" stroke-width="0.6"/>
<line x1="180.74" y1="638.45" x2="183.24" y2="638.45" stroke="#666" stroke-width="0.6"/>
<rect x="179.94" y="639.45" width="4.1" height="78.25" fill="#9b5ba8" rx="0.6"/>
<line x1="188.07" y1="686.45" x2="188.07" y2="691.95" stroke="#666" stroke-width="0.6"/>
<line x1="186.82" y1="686.45" x2="189.32" y2="686.45" stroke="#666" stroke-width="0.6"/>
<rect x="186.02" y="691.95" width="4.1" height="25.75" fill="#d4d672" rx="0.6"/>
<line x1="194.15" y1="631.7" x2="194.15" y2="634.2" stroke="#666" stroke-width="0.6"/>
<line x1="192.9" y1="631.7" x2="195.4" y2="631.7" stroke="#666" stroke-width="0.6"/>
<rect x="192.1" y="634.2" width="4.1" height="83.5" fill="#5a9e1f" rx="0.6"/>
<line x1="200.23" y1="632.45" x2="200.23" y2="634.2" stroke="#666" stroke-width="0.6"/>
<line x1="198.98" y1="632.45" x2="201.48" y2="632.45" stroke="#666" stroke-width="0.6"/>
<rect x="198.18" y="634.2" width="4.1" height="83.5" fill="#606060" rx="0.6"/>
<line x1="206.31" y1="709.2" x2="206.31" y2="710.2" stroke="#666" stroke-width="0.6"/>
<line x1="205.06" y1="709.2" x2="207.56" y2="709.2" stroke="#666" stroke-width="0.6"/>
<rect x="204.26" y="710.2" width="4.1" height="7.5" fill="#e0982f" rx="0.6"/>
<line x1="50.4" y1="717.7" x2="211" y2="717.7" stroke="#555" stroke-width="1.4"/>
<text x="61.2" y="728.7" font-size="7.2" text-anchor="end">Coated antigen</text>
<text x="61.2" y="738.6" font-size="7.2" text-anchor="end">Pre-S</text>
<text x="77.2" y="738.6" font-size="7.2" text-anchor="middle">+</text>
<text x="130.6" y="737.6" font-size="7.2" text-anchor="middle">–</text>
<text x="184.4" y="737.6" font-size="7.2" text-anchor="middle">–</text>
<text x="61.2" y="748.8" font-size="7.2" text-anchor="end">HBsAg</text>
<text x="77.2" y="747.8" font-size="7.2" text-anchor="middle">–</text>
<text x="130.6" y="748.8" font-size="7.2" text-anchor="middle">+</text>
<text x="184.4" y="747.8" font-size="7.2" text-anchor="middle">–</text>
<text x="61.2" y="759" font-size="7.2" text-anchor="end">LMS VLP</text>
<text x="77.2" y="758" font-size="7.2" text-anchor="middle">–</text>
<text x="130.6" y="758" font-size="7.2" text-anchor="middle">–</text>
<text x="184.4" y="759" font-size="7.2" text-anchor="middle">+</text>
<rect x="212.8" y="618.6" width="10.6" height="3" fill="#000000"/>
<text x="229.5" y="622.5" font-size="6.6">PBS</text>
<rect x="212.8" y="626.23" width="10.6" height="3" fill="#f07a28"/>
<text x="229.5" y="630.13" font-size="6.6">Luc mRNA</text>
<rect x="212.8" y="633.86" width="10.6" height="3" fill="#5b9bd8"/>
<text x="229.5" y="637.76" font-size="6.6">L+M+S mRNA</text>
<rect x="212.8" y="641.49" width="10.6" height="3" fill="#9b5ba8"/>
<text x="229.5" y="645.39" font-size="6.6">L+S mRNA</text>
<rect x="212.8" y="649.12" width="10.6" height="3" fill="#d4d672"/>
<text x="229.5" y="653.02" font-size="6.6">L mRNA</text>
<rect x="212.8" y="656.75" width="10.6" height="3" fill="#5a9e1f"/>
<text x="229.5" y="660.65" font-size="6.6">S mRNA</text>
<rect x="212.8" y="664.38" width="10.6" height="3" fill="#606060"/>
<text x="229.5" y="668.28" font-size="6.6">LMS VLP</text>
<rect x="212.8" y="672.01" width="10.6" height="3" fill="#e0982f"/>
<text x="229.5" y="675.91" font-size="6.6">Pre-S</text>
<text x="276" y="611.4" font-size="21" style="font-family:Liberation Serif, Times New Roman, serif;stroke-width:0.1px">f</text>
<text x="368" y="619" font-size="6.97" text-anchor="middle">Anti-Pre-S</text>
<line x1="302.7" y1="631.5" x2="302.7" y2="719.8" stroke="#000" stroke-width="1.2"/>
<line x1="299.2" y1="719.8" x2="302.7" y2="719.8" stroke="#000" stroke-width="1"/>
<text x="298.4" y="722.4" font-size="6.95" text-anchor="end">0.0</text>
<line x1="299.2" y1="702.25" x2="302.7" y2="702.25" stroke="#000" stroke-width="1"/>
<text x="298.4" y="704.85" font-size="6.95" text-anchor="end">0.5</text>
<line x1="299.2" y1="684.7" x2="302.7" y2="684.7" stroke="#000" stroke-width="1"/>
<text x="298.4" y="687.3" font-size="6.95" text-anchor="end">1.0</text>
<line x1="299.2" y1="667.15" x2="302.7" y2="667.15" stroke="#000" stroke-width="1"/>
<text x="298.4" y="669.75" font-size="6.95" text-anchor="end">1.5</text>
<line x1="299.2" y1="649.6" x2="302.7" y2="649.6" stroke="#000" stroke-width="1"/>
<text x="298.4" y="652.2" font-size="6.95" text-anchor="end">2.0</text>
<line x1="299.2" y1="632.05" x2="302.7" y2="632.05" stroke="#000" stroke-width="1"/>
<text x="298.4" y="634.65" font-size="6.95" text-anchor="end">2.5</text>
<text x="284.2" y="678" font-size="7" text-anchor="middle" transform="rotate(-90 284.2 678)">OD450-OD630</text>
<line x1="302.7" y1="719.8" x2="435.2" y2="719.8" stroke="#000" stroke-width="1.2"/>
<line x1="302.6" y1="719.8" x2="302.6" y2="723.3" stroke="#000" stroke-width="1"/>
<line x1="309.22" y1="719.8" x2="309.22" y2="721.6" stroke="#000" stroke-width="0.6"/>
<line x1="313.1" y1="719.8" x2="313.1" y2="721.6" stroke="#000" stroke-width="0.6"/>
<line x1="315.85" y1="719.8" x2="315.85" y2="721.6" stroke="#000" stroke-width="0.6"/>
<line x1="317.98" y1="719.8" x2="317.98" y2="721.6" stroke="#000" stroke-width="0.6"/>
<line x1="319.72" y1="719.8" x2="319.72" y2="721.6" stroke="#000" stroke-width="0.6"/>
<line x1="321.19" y1="719.8" x2="321.19" y2="721.6" stroke="#000" stroke-width="0.6"/>
<line x1="322.47" y1="719.8" x2="322.47" y2="721.6" stroke="#000" stroke-width="0.6"/>
<line x1="323.59" y1="719.8" x2="323.59" y2="721.6" stroke="#000" stroke-width="0.6"/>
<text x="301.6" y="733.0" font-size="7.2" text-anchor="middle">10<tspan dy="-3.0" font-size="5.0">-3</tspan></text>
<line x1="324.6" y1="719.8" x2="324.6" y2="723.3" stroke="#000" stroke-width="1"/>
<line x1="331.22" y1="719.8" x2="331.22" y2="721.6" stroke="#000" stroke-width="0.6"/>
<line x1="335.1" y1="719.8" x2="335.1" y2="721.6" stroke="#000" stroke-width="0.6"/>
<line x1="337.85" y1="719.8" x2="337.85" y2="721.6" stroke="#000" stroke-width="0.6"/>
<line x1="339.98" y1="719.8" x2="339.98" y2="721.6" stroke="#000" stroke-width="0.6"/>
<line x1="341.72" y1="719.8" x2="341.72" y2="721.6" stroke="#000" stroke-width="0.6"/>
<line x1="343.19" y1="719.8" x2="343.19" y2="721.6" stroke="#000" stroke-width="0.6"/>
<line x1="344.47" y1="719.8" x2="344.47" y2="721.6" stroke="#000" stroke-width="0.6"/>
<line x1="345.59" y1="719.8" x2="345.59" y2="721.6" stroke="#000" stroke-width="0.6"/>
<text x="323.6" y="733.0" font-size="7.2" text-anchor="middle">10<tspan dy="-3.0" font-size="5.0">-2</tspan></text>
<line x1="346.6" y1="719.8" x2="346.6" y2="723.3" stroke="#000" stroke-width="1"/>
<line x1="353.22" y1="719.8" x2="353.22" y2="721.6" stroke="#000" stroke-width="0.6"/>
<line x1="357.1" y1="719.8" x2="357.1" y2="721.6" stroke="#000" stroke-width="0.6"/>
<line x1="359.85" y1="719.8" x2="359.85" y2="721.6" stroke="#000" stroke-width="0.6"/>
<line x1="361.98" y1="719.8" x2="361.98" y2="721.6" stroke="#000" stroke-width="0.6"/>
<line x1="363.72" y1="719.8" x2="363.72" y2="721.6" stroke="#000" stroke-width="0.6"/>
<line x1="365.19" y1="719.8" x2="365.19" y2="721.6" stroke="#000" stroke-width="0.6"/>
<line x1="366.47" y1="719.8" x2="366.47" y2="721.6" stroke="#000" stroke-width="0.6"/>
<line x1="367.59" y1="719.8" x2="367.59" y2="721.6" stroke="#000" stroke-width="0.6"/>
<text x="345.6" y="733.0" font-size="7.2" text-anchor="middle">10<tspan dy="-3.0" font-size="5.0">-1</tspan></text>
<line x1="368.6" y1="719.8" x2="368.6" y2="723.3" stroke="#000" stroke-width="1"/>
<line x1="375.22" y1="719.8" x2="375.22" y2="721.6" stroke="#000" stroke-width="0.6"/>
<line x1="379.1" y1="719.8" x2="379.1" y2="721.6" stroke="#000" stroke-width="0.6"/>
<line x1="381.85" y1="719.8" x2="381.85" y2="721.6" stroke="#000" stroke-width="0.6"/>
<line x1="383.98" y1="719.8" x2="383.98" y2="721.6" stroke="#000" stroke-width="0.6"/>
<line x1="385.72" y1="719.8" x2="385.72" y2="721.6" stroke="#000" stroke-width="0.6"/>
<line x1="387.19" y1="719.8" x2="387.19" y2="721.6" stroke="#000" stroke-width="0.6"/>
<line x1="388.47" y1="719.8" x2="388.47" y2="721.6" stroke="#000" stroke-width="0.6"/>
<line x1="389.59" y1="719.8" x2="389.59" y2="721.6" stroke="#000" stroke-width="0.6"/>
<text x="367.6" y="733.0" font-size="7.2" text-anchor="middle">10<tspan dy="-3.0" font-size="5.0">0</tspan></text>
<line x1="390.6" y1="719.8" x2="390.6" y2="723.3" stroke="#000" stroke-width="1"/>
<line x1="397.22" y1="719.8" x2="397.22" y2="721.6" stroke="#000" stroke-width="0.6"/>
<line x1="401.1" y1="719.8" x2="401.1" y2="721.6" stroke="#000" stroke-width="0.6"/>
<line x1="403.85" y1="719.8" x2="403.85" y2="721.6" stroke="#000" stroke-width="0.6"/>
<line x1="405.98" y1="719.8" x2="405.98" y2="721.6" stroke="#000" stroke-width="0.6"/>
<line x1="407.72" y1="719.8" x2="407.72" y2="721.6" stroke="#000" stroke-width="0.6"/>
<line x1="409.19" y1="719.8" x2="409.19" y2="721.6" stroke="#000" stroke-width="0.6"/>
<line x1="410.47" y1="719.8" x2="410.47" y2="721.6" stroke="#000" stroke-width="0.6"/>
<line x1="411.59" y1="719.8" x2="411.59" y2="721.6" stroke="#000" stroke-width="0.6"/>
<text x="389.6" y="733.0" font-size="7.2" text-anchor="middle">10<tspan dy="-3.0" font-size="5.0">1</tspan></text>
<line x1="412.6" y1="719.8" x2="412.6" y2="723.3" stroke="#000" stroke-width="1"/>
<line x1="419.22" y1="719.8" x2="419.22" y2="721.6" stroke="#000" stroke-width="0.6"/>
<line x1="423.1" y1="719.8" x2="423.1" y2="721.6" stroke="#000" stroke-width="0.6"/>
<line x1="425.85" y1="719.8" x2="425.85" y2="721.6" stroke="#000" stroke-width="0.6"/>
<line x1="427.98" y1="719.8" x2="427.98" y2="721.6" stroke="#000" stroke-width="0.6"/>
<line x1="429.72" y1="719.8" x2="429.72" y2="721.6" stroke="#000" stroke-width="0.6"/>
<line x1="431.19" y1="719.8" x2="431.19" y2="721.6" stroke="#000" stroke-width="0.6"/>
<line x1="432.47" y1="719.8" x2="432.47" y2="721.6" stroke="#000" stroke-width="0.6"/>
<line x1="433.59" y1="719.8" x2="433.59" y2="721.6" stroke="#000" stroke-width="0.6"/>
<text x="411.6" y="733.0" font-size="7.2" text-anchor="middle">10<tspan dy="-3.0" font-size="5.0">2</tspan></text>
<line x1="434.6" y1="719.8" x2="434.6" y2="723.3" stroke="#000" stroke-width="1"/>
<text x="433.6" y="733.0" font-size="7.2" text-anchor="middle">10<tspan dy="-3.0" font-size="5.0">3</tspan></text>
<text x="367.9" y="742.7" font-size="7.08" text-anchor="middle">IgG concentration (μg/mL)</text>
<polyline points="320.2,720.07 320.92,720.04 321.64,720.02 322.36,719.99 323.08,719.96 323.8,719.92 324.52,719.89 325.24,719.85 325.96,719.82 326.68,719.77 327.4,719.73 328.12,719.68 328.84,719.64 329.56,719.58 330.28,719.53 331,719.47 331.72,719.41 332.44,719.34 333.15,719.27 333.87,719.2 334.59,719.12 335.31,719.04 336.03,718.95 336.75,718.86 337.47,718.76 338.19,718.66 338.91,718.55 339.63,718.43 340.35,718.31 341.07,718.18 341.79,718.04 342.51,717.9 343.23,717.74 343.95,717.58 344.67,717.41 345.39,717.23 346.11,717.03 346.83,716.83 347.55,716.62 348.27,716.39 348.99,716.15 349.71,715.9 350.43,715.64 351.15,715.36 351.87,715.06 352.59,714.76 353.31,714.43 354.03,714.09 354.75,713.73 355.47,713.35 356.19,712.95 356.91,712.54 357.63,712.1 358.34,711.64 359.06,711.16 359.78,710.66 360.5,710.14 361.22,709.59 361.94,709.02 362.66,708.42 363.38,707.8 364.1,707.15 364.82,706.48 365.54,705.78 366.26,705.06 366.98,704.3 367.7,703.53 368.42,702.72 369.14,701.89 369.86,701.03 370.58,700.15 371.3,699.24 372.02,698.3 372.74,697.35 373.46,696.36 374.18,695.36 374.9,694.33 375.62,693.29 376.34,692.22 377.06,691.14 377.78,690.04 378.5,688.93 379.22,687.81 379.94,686.67 380.66,685.53 381.38,684.38 382.1,683.22 382.82,682.06 383.53,680.91 384.25,679.75 384.97,678.59 385.69,677.45 386.41,676.3 387.13,675.17 387.85,674.05 388.57,672.95 389.29,671.85 390.01,670.78 390.73,669.72 391.45,668.68 392.17,667.66 392.89,666.67 393.61,665.69 394.33,664.74 395.05,663.82 395.77,662.92 396.49,662.05 397.21,661.2 397.93,660.37 398.65,659.58 399.37,658.81 400.09,658.07 400.81,657.35 401.53,656.66 402.25,656 402.97,655.36 403.69,654.75 404.41,654.16 405.13,653.6 405.85,653.06 406.57,652.55 407.29,652.05 408.01,651.58 408.72,651.13 409.44,650.7 410.16,650.29 410.88,649.9 411.6,649.53 412.32,649.18 413.04,648.84 413.76,648.52 414.48,648.22 415.2,647.93 415.92,647.66 416.64,647.4 417.36,647.15 418.08,646.92 418.8,646.7 419.52,646.49 420.24,646.29 420.96,646.1" fill="none" stroke="#4a90d9" stroke-width="1.1"/>
<polyline points="320.2,719.48 320.92,719.47 321.64,719.46 322.36,719.45 323.08,719.44 323.8,719.43 324.52,719.42 325.24,719.41 325.96,719.4 326.68,719.38 327.4,719.37 328.12,719.35 328.84,719.33 329.56,719.32 330.28,719.3 331,719.28 331.72,719.25 332.44,719.23 333.15,719.21 333.87,719.18 334.59,719.15 335.31,719.12 336.03,719.08 336.75,719.05 337.47,719.01 338.19,718.97 338.91,718.92 339.63,718.88 340.35,718.83 341.07,718.77 341.79,718.71 342.51,718.65 343.23,718.58 343.95,718.51 344.67,718.44 345.39,718.35 346.11,718.27 346.83,718.17 347.55,718.07 348.27,717.96 348.99,717.85 349.71,717.73 350.43,717.6 351.15,717.45 351.87,717.3 352.59,717.14 353.31,716.97 354.03,716.79 354.75,716.6 355.47,716.39 356.19,716.17 356.91,715.93 357.63,715.68 358.34,715.41 359.06,715.12 359.78,714.82 360.5,714.5 361.22,714.16 361.94,713.79 362.66,713.4 363.38,713 364.1,712.56 364.82,712.1 365.54,711.62 366.26,711.1 366.98,710.56 367.7,709.99 368.42,709.38 369.14,708.75 369.86,708.08 370.58,707.38 371.3,706.65 372.02,705.88 372.74,705.08 373.46,704.24 374.18,703.36 374.9,702.45 375.62,701.51 376.34,700.53 377.06,699.51 377.78,698.47 378.5,697.39 379.22,696.27 379.94,695.13 380.66,693.96 381.38,692.77 382.1,691.55 382.82,690.3 383.53,689.04 384.25,687.77 384.97,686.48 385.69,685.17 386.41,683.86 387.13,682.55 387.85,681.24 388.57,679.92 389.29,678.62 390.01,677.32 390.73,676.03 391.45,674.76 392.17,673.51 392.89,672.27 393.61,671.06 394.33,669.87 395.05,668.71 395.77,667.58 396.49,666.48 397.21,665.41 397.93,664.38 398.65,663.38 399.37,662.41 400.09,661.48 400.81,660.58 401.53,659.72 402.25,658.89 402.97,658.1 403.69,657.34 404.41,656.62 405.13,655.93 405.85,655.28 406.57,654.66 407.29,654.07 408.01,653.5 408.72,652.97 409.44,652.47 410.16,651.99 410.88,651.54 411.6,651.12 412.32,650.71 413.04,650.34 413.76,649.98 414.48,649.64 415.2,649.33 415.92,649.03 416.64,648.75 417.36,648.49 418.08,648.24 418.8,648.01 419.52,647.8 420.24,647.59 420.96,647.4" fill="none" stroke="#a552a8" stroke-width="1.1"/>
<polyline points="320.2,719.59 320.92,719.58 321.64,719.58 322.36,719.58 323.08,719.57 323.8,719.57 324.52,719.56 325.24,719.56 325.96,719.55 326.68,719.55 327.4,719.54 328.12,719.54 328.84,719.53 329.56,719.52 330.28,719.52 331,719.51 331.72,719.5 332.44,719.5 333.15,719.49 333.87,719.48 334.59,719.47 335.31,719.46 336.03,719.45 336.75,719.44 337.47,719.42 338.19,719.41 338.91,719.4 339.63,719.38 340.35,719.37 341.07,719.35 341.79,719.34 342.51,719.32 343.23,719.3 343.95,719.28 344.67,719.26 345.39,719.24 346.11,719.22 346.83,719.19 347.55,719.17 348.27,719.14 348.99,719.11 349.71,719.08 350.43,719.05 351.15,719.01 351.87,718.98 352.59,718.94 353.31,718.9 354.03,718.86 354.75,718.81 355.47,718.77 356.19,718.72 356.91,718.66 357.63,718.61 358.34,718.55 359.06,718.49 359.78,718.42 360.5,718.35 361.22,718.28 361.94,718.2 362.66,718.12 363.38,718.03 364.1,717.94 364.82,717.85 365.54,717.75 366.26,717.64 366.98,717.53 367.7,717.41 368.42,717.29 369.14,717.15 369.86,717.02 370.58,716.87 371.3,716.72 372.02,716.56 372.74,716.39 373.46,716.21 374.18,716.02 374.9,715.82 375.62,715.61 376.34,715.39 377.06,715.16 377.78,714.92 378.5,714.67 379.22,714.4 379.94,714.12 380.66,713.83 381.38,713.52 382.1,713.2 382.82,712.87 383.53,712.52 384.25,712.15 384.97,711.76 385.69,711.36 386.41,710.94 387.13,710.5 387.85,710.05 388.57,709.57 389.29,709.08 390.01,708.56 390.73,708.03 391.45,707.47 392.17,706.89 392.89,706.29 393.61,705.67 394.33,705.03 395.05,704.37 395.77,703.69 396.49,702.98 397.21,702.25 397.93,701.51 398.65,700.74 399.37,699.95 400.09,699.14 400.81,698.31 401.53,697.46 402.25,696.6 402.97,695.71 403.69,694.81 404.41,693.9 405.13,692.97 405.85,692.03 406.57,691.07 407.29,690.11 408.01,689.13 408.72,688.15 409.44,687.16 410.16,686.17 410.88,685.17 411.6,684.17 412.32,683.17 413.04,682.18 413.76,681.18 414.48,680.19 415.2,679.21 415.92,678.23 416.64,677.26 417.36,676.3 418.08,675.36 418.8,674.43 419.52,673.51 420.24,672.6 420.96,671.72" fill="none" stroke="#999999" stroke-width="1.1"/>
<polyline points="320.2,719.64 320.92,719.64 321.64,719.64 322.36,719.64 323.08,719.64 323.8,719.64 324.52,719.64 325.24,719.63 325.96,719.63 326.68,719.63 327.4,719.63 328.12,719.63 328.84,719.63 329.56,719.63 330.28,719.63 331,719.63 331.72,719.63 332.44,719.63 333.15,719.63 333.87,719.63 334.59,719.62 335.31,719.62 336.03,719.62 336.75,719.62 337.47,719.62 338.19,719.62 338.91,719.62 339.63,719.61 340.35,719.61 341.07,719.61 341.79,719.61 342.51,719.6 343.23,719.6 343.95,719.6 344.67,719.6 345.39,719.59 346.11,719.59 346.83,719.59 347.55,719.58 348.27,719.58 348.99,719.57 349.71,719.57 350.43,719.56 351.15,719.56 351.87,719.55 352.59,719.55 353.31,719.54 354.03,719.53 354.75,719.52 355.47,719.52 356.19,719.51 356.91,719.5 357.63,719.49 358.34,719.48 359.06,719.47 359.78,719.45 360.5,719.44 361.22,719.43 361.94,719.41 362.66,719.4 363.38,719.38 364.1,719.36 364.82,719.34 365.54,719.32 366.26,719.3 366.98,719.27 367.7,719.25 368.42,719.22 369.14,719.19 369.86,719.16 370.58,719.13 371.3,719.09 372.02,719.05 372.74,719.01 373.46,718.97 374.18,718.92 374.9,718.88 375.62,718.82 376.34,718.77 377.06,718.71 377.78,718.64 378.5,718.57 379.22,718.5 379.94,718.42 380.66,718.34 381.38,718.25 382.1,718.16 382.82,718.05 383.53,717.95 384.25,717.83 384.97,717.71 385.69,717.58 386.41,717.44 387.13,717.29 387.85,717.13 388.57,716.97 389.29,716.79 390.01,716.6 390.73,716.39 391.45,716.18 392.17,715.95 392.89,715.71 393.61,715.45 394.33,715.18 395.05,714.89 395.77,714.58 396.49,714.26 397.21,713.92 397.93,713.55 398.65,713.17 399.37,712.76 400.09,712.33 400.81,711.88 401.53,711.4 402.25,710.9 402.97,710.38 403.69,709.82 404.41,709.24 405.13,708.63 405.85,708 406.57,707.33 407.29,706.63 408.01,705.91 408.72,705.15 409.44,704.36 410.16,703.55 410.88,702.7 411.6,701.83 412.32,700.92 413.04,699.99 413.76,699.02 414.48,698.04 415.2,697.02 415.92,695.99 416.64,694.93 417.36,693.85 418.08,692.75 418.8,691.63 419.52,690.5 420.24,689.36 420.96,688.21" fill="none" stroke="#e8a020" stroke-width="1.1"/>
<line x1="420.96" y1="647.84" x2="420.96" y2="642.58" stroke="#777" stroke-width="0.6"/>
<line x1="419.86" y1="647.84" x2="422.06" y2="647.84" stroke="#777" stroke-width="0.6"/>
<line x1="419.86" y1="642.58" x2="422.06" y2="642.58" stroke="#777" stroke-width="0.6"/>
<line x1="420.96" y1="648.9" x2="420.96" y2="643.98" stroke="#777" stroke-width="0.6"/>
<line x1="419.86" y1="648.9" x2="422.06" y2="648.9" stroke="#777" stroke-width="0.6"/>
<line x1="419.86" y1="643.98" x2="422.06" y2="643.98" stroke="#777" stroke-width="0.6"/>
<line x1="420.96" y1="674.17" x2="420.96" y2="668.9" stroke="#777" stroke-width="0.6"/>
<line x1="419.86" y1="674.17" x2="422.06" y2="674.17" stroke="#777" stroke-width="0.6"/>
<line x1="419.86" y1="668.9" x2="422.06" y2="668.9" stroke="#777" stroke-width="0.6"/>
<line x1="420.96" y1="695.58" x2="420.96" y2="681.19" stroke="#777" stroke-width="0.6"/>
<line x1="419.86" y1="695.58" x2="422.06" y2="695.58" stroke="#777" stroke-width="0.6"/>
<line x1="419.86" y1="681.19" x2="422.06" y2="681.19" stroke="#777" stroke-width="0.6"/>
<circle cx="320.2" cy="719.1" r="1.72" fill="#000"/>
<circle cx="329" cy="719.1" r="1.72" fill="#000"/>
<circle cx="336.04" cy="719.1" r="1.72" fill="#000"/>
<circle cx="344.4" cy="718.4" r="1.72" fill="#000"/>
<circle cx="359.58" cy="712.08" r="1.72" fill="#000"/>
<circle cx="374.98" cy="693.12" r="1.72" fill="#000"/>
<circle cx="390.38" cy="669.96" r="1.72" fill="#000"/>
<circle cx="405.56" cy="654.87" r="1.72" fill="#000"/>
<circle cx="420.96" cy="645.04" r="1.72" fill="#000"/>
<rect x="318.64" y="717.54" width="3.12" height="3.12" fill="#000"/>
<rect x="327.44" y="717.54" width="3.12" height="3.12" fill="#000"/>
<rect x="334.48" y="717.54" width="3.12" height="3.12" fill="#000"/>
<rect x="342.84" y="717.19" width="3.12" height="3.12" fill="#000"/>
<rect x="358.02" y="713.68" width="3.12" height="3.12" fill="#000"/>
<rect x="373.42" y="701.04" width="3.12" height="3.12" fill="#000"/>
<rect x="388.82" y="674.37" width="3.12" height="3.12" fill="#000"/>
<rect x="404" y="655.06" width="3.12" height="3.12" fill="#000"/>
<rect x="419.4" y="645.23" width="3.12" height="3.12" fill="#000"/>
<path d="M320.2,718.16 L318.56,721.11 L321.84,721.11 Z"/>
<path d="M329,717.81 L327.36,720.76 L330.64,720.76 Z"/>
<path d="M336.04,717.81 L334.4,720.76 L337.68,720.76 Z"/>
<path d="M344.4,717.46 L342.76,720.41 L346.04,720.41 Z"/>
<path d="M359.58,716.76 L357.94,719.71 L361.22,719.71 Z"/>
<path d="M374.98,714.3 L373.34,717.25 L376.62,717.25 Z"/>
<path d="M390.38,706.58 L388.74,709.53 L392.02,709.53 Z"/>
<path d="M405.56,690.78 L403.92,693.73 L407.2,693.73 Z"/>
<path d="M420.96,670.07 L419.32,673.02 L422.6,673.02 Z"/>
<circle cx="320.2" cy="719.8" r="1.4" fill="#000"/>
<circle cx="329" cy="719.8" r="1.4" fill="#000"/>
<circle cx="336.04" cy="719.8" r="1.4" fill="#000"/>
<circle cx="344.4" cy="719.45" r="1.4" fill="#000"/>
<circle cx="359.58" cy="719.1" r="1.4" fill="#000"/>
<circle cx="374.98" cy="718.75" r="1.4" fill="#000"/>
<circle cx="390.38" cy="716.64" r="1.4" fill="#000"/>
<circle cx="405.56" cy="708.22" r="1.4" fill="#000"/>
<circle cx="420.96" cy="688.21" r="1.4" fill="#000"/>
<text x="504.8" y="624.6" font-size="6.43">EC50 (μg/mL)</text>
<line x1="428.2" y1="631.1" x2="439.4" y2="631.1" stroke="#4a90d9" stroke-width="1"/>
<circle cx="433.8" cy="631.1" r="1.54" fill="#000"/>
<text x="442" y="633.5" font-size="6.5">L+M+S mRNA IgG</text>
<text x="504.8" y="633.5" font-size="6.5">4.39</text>
<line x1="428.2" y1="640.7" x2="439.4" y2="640.7" stroke="#a552a8" stroke-width="1"/>
<rect x="432.4" y="639.3" width="2.8" height="2.8" fill="#000"/>
<text x="442" y="643.1" font-size="6.5">L+S mRNA IgG</text>
<text x="504.8" y="643.1" font-size="6.5">8.23</text>
<line x1="428.2" y1="650.3" x2="439.4" y2="650.3" stroke="#999999" stroke-width="1"/>
<path d="M433.8,648.83 L432.33,651.48 L435.27,651.48 Z"/>
<text x="442" y="652.7" font-size="6.5">LMS VLP IgG</text>
<text x="504.8" y="652.7" font-size="6.5">88.47</text>
<line x1="428.2" y1="659.9" x2="439.4" y2="659.9" stroke="#e8a020" stroke-width="1"/>
<circle cx="433.8" cy="659.9" r="1.26" fill="#000"/>
<text x="442" y="662.3" font-size="6.5">Pre-S IgG</text>
<text x="504.8" y="662.3" font-size="6.5">223.80</text>
</svg>
</body></html>
